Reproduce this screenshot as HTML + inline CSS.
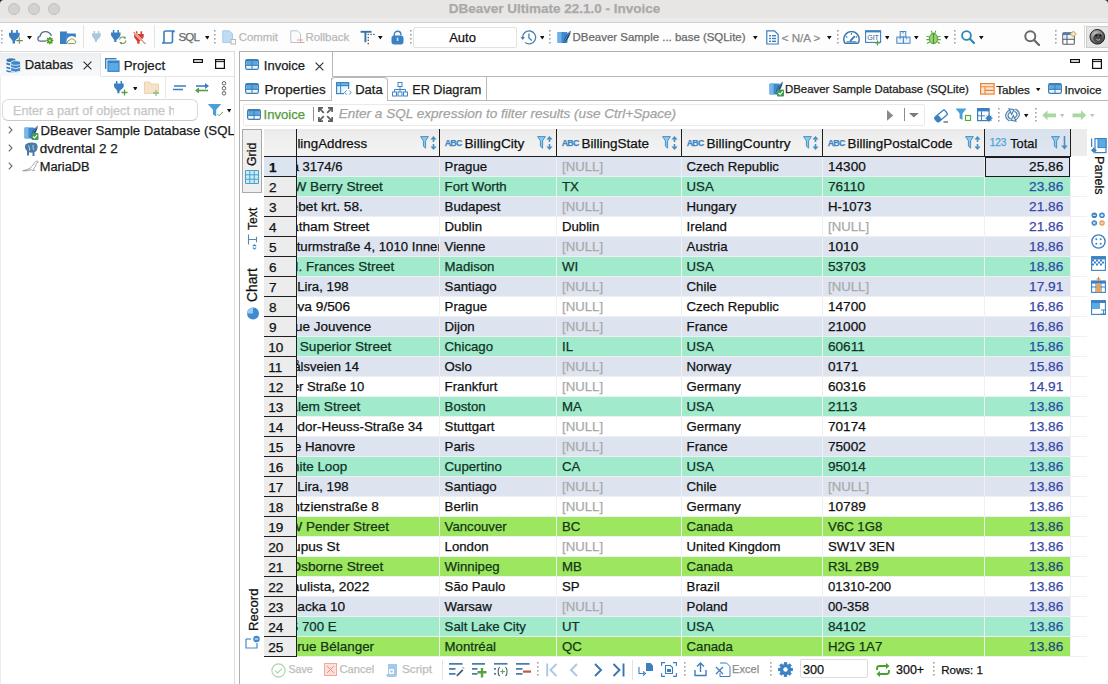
<!DOCTYPE html><html><head><meta charset="utf-8"><style>
*{margin:0;padding:0;box-sizing:border-box}
html,body{width:1108px;height:684px;overflow:hidden}
body{position:relative;background:#fff;font-family:"Liberation Sans",sans-serif;color:#1a1a1a}
.a{position:absolute}
.t{position:absolute;white-space:nowrap;line-height:1;-webkit-text-stroke:0.25px currentColor}
.clip{position:absolute;overflow:hidden}
</style></head><body>
<div class="a" style="left:0px;top:0px;width:1108px;height:6px;background:#222"></div>
<div class="a" style="left:0px;top:0px;width:1108px;height:23px;background:#e8e6e5;border-radius:4px 4px 0 0"></div>
<div class="a" style="left:0px;top:17.5px;width:1108px;height:4.5px;background:#ecebea"></div>
<div class="a" style="left:0px;top:22.3px;width:1108px;height:1px;background:#d2d2d2"></div>
<div class="a" style="left:8px;top:3px;width:12px;height:12px;border-radius:50%;background:#d3d1d1;border:1px solid #c2c0c0"></div>
<div class="a" style="left:28px;top:3px;width:12px;height:12px;border-radius:50%;background:#d3d1d1;border:1px solid #c2c0c0"></div>
<div class="a" style="left:48px;top:3px;width:12px;height:12px;border-radius:50%;background:#d3d1d1;border:1px solid #c2c0c0"></div>
<div class="t" style="left:448.7px;top:2.00px;font-size:13.5px;color:#a9a9a9;font-weight:bold">DBeaver Ultimate 22.1.0 - Invoice</div>
<div class="a" style="left:0px;top:23.3px;width:1108px;height:27.7px;background:#fdfdfd"></div>
<svg class="a" style="left:1.3px;top:30.3px;" width="2" height="16" viewBox="0 0 2 16"><rect x="0" y="0" width="1.6" height="1.6" fill="#aaaaaa"/><rect x="0" y="4" width="1.6" height="1.6" fill="#aaaaaa"/><rect x="0" y="8" width="1.6" height="1.6" fill="#aaaaaa"/><rect x="0" y="12" width="1.6" height="1.6" fill="#aaaaaa"/></svg>
<svg class="a" style="left:9px;top:30px;" width="16" height="15" viewBox="0 0 16 15"><g transform="translate(0,0) scale(1.0)" fill="#3b7fc0"><rect x="2" y="0" width="1.7" height="3.2"/><rect x="7.1" y="0" width="1.7" height="3.2"/><path d="M0,2.8 H10.6 V5.2 Q10.6,7 8.6,8.8 L6,11 V13.4 H3.6 V11 L2,8.8 Q0,7 0,5.2 Z"/></g><path d="M10.3,7.2 V13.8 M7.3,10.6 H13.8" stroke="#fdfdfd" stroke-width="3" fill="none"/><path d="M10.3,7.2 V13.8 M7.3,10.6 H13.8" stroke="#6b8f4e" stroke-width="1.1" fill="none"/></svg>
<svg class="a" style="left:27px;top:36.2px;" width="5" height="3.6" viewBox="0 0 5 3.6"><polygon points="0,0 5,0 2.5,3.6" fill="#111"/></svg>
<svg class="a" style="left:37px;top:30px;" width="17" height="15" viewBox="0 0 17 15"><path d="M9,11.2 H3.4 Q0.9,11.2 0.9,8.8 Q0.9,6.5 3.1,6.1 Q4,1.6 8.6,1.6 Q12.6,1.6 14.5,5.8" fill="none" stroke="#4c6d8e" stroke-width="1.3"/><g transform="translate(12.8 10.6)"><g stroke="#4b9a2c" stroke-width="1.5"><path d="M0,-3.6V3.6M-3.6,0H3.6M-2.5,-2.5L2.5,2.5M2.5,-2.5L-2.5,2.5"/></g><circle r="2.4" fill="#4b9a2c"/><circle r="1.1" fill="#b8ec98"/></g></svg>
<svg class="a" style="left:60px;top:30.5px;" width="17" height="14" viewBox="0 0 17 14"><path d="M0,0.5 H6.5 L7.5,2.5 H15.8 V13 H0 Z" fill="#3a80c4"/><path d="M6.5,0.5 V13" stroke="#4a90d4" stroke-width="0.8"/><circle cx="11.8" cy="10.2" r="5.3" fill="#fdfdfd"/><path d="M8.6,12.6 H14.8 A1.8,1.8 0 0 0 14.4,9.2 A2.8,2.8 0 0 0 9.3,9.6 A1.5,1.5 0 0 0 8.6,12.6Z" fill="#f4fbe8" stroke="#8a9a5a" stroke-width="1"/></svg>
<div class="a" style="left:82.5px;top:25px;width:1px;height:23px;background:#e3e3e3"></div>
<svg class="a" style="left:92px;top:30.5px;" width="10" height="13" viewBox="0 0 10 13"><g transform="translate(0,0) scale(0.83)" fill="#a9c7df"><rect x="2" y="0" width="1.7" height="3.2"/><rect x="7.1" y="0" width="1.7" height="3.2"/><path d="M0,2.8 H10.6 V5.2 Q10.6,7 8.6,8.8 L6,11 V13.4 H3.6 V11 L2,8.8 Q0,7 0,5.2 Z"/></g></svg>
<svg class="a" style="left:111px;top:30px;" width="16" height="15" viewBox="0 0 16 15"><g transform="translate(0,0) scale(0.9)" fill="#3b7fc0"><rect x="2" y="0" width="1.7" height="3.2"/><rect x="7.1" y="0" width="1.7" height="3.2"/><path d="M0,2.8 H10.6 V5.2 Q10.6,7 8.6,8.8 L6,11 V13.4 H3.6 V11 L2,8.8 Q0,7 0,5.2 Z"/></g><g fill="none" stroke="#6a9a50" stroke-width="1.1"><path d="M8.5,9.5 A3.5,3.2 0 0 1 14.5,8"/><path d="M15,10.5 A3.5,3.2 0 0 1 9,12.5"/></g><path d="M13.2,6.2 L15.2,8.4 L12.6,8.6Z M10.4,14.4 L8.5,12.2 L11,12Z" fill="#6a9a50"/></svg>
<svg class="a" style="left:133px;top:30.5px;" width="13" height="14" viewBox="0 0 13 14"><g transform="translate(1,0.3) scale(0.92)" fill="#cf3e2e"><rect x="2" y="0" width="1.7" height="3.2"/><rect x="7.1" y="0" width="1.7" height="3.2"/><path d="M0,2.8 H10.6 V5.2 Q10.6,7 8.6,8.8 L6,11 V13.4 H3.6 V11 L2,8.8 Q0,7 0,5.2 Z"/></g><path d="M0.5,1 L12.5,13" stroke="#fbfbfb" stroke-width="2.2"/><path d="M0.5,1 L12.5,13" stroke="#cf3e2e" stroke-width="1"/></svg>
<div class="a" style="left:154px;top:25px;width:1px;height:23px;background:#e3e3e3"></div>
<svg class="a" style="left:161px;top:30px;" width="15" height="14" viewBox="0 0 15 14"><path d="M3,2.5 V11.5 Q3,13 1,13 H9.5 Q11.5,13 11.5,11 V1.5 H13.8 M3,2.5 Q3,1 5,1 H13.5" fill="none" stroke="#3b7fc0" stroke-width="1.6"/></svg>
<div class="t" style="left:178.39999999999998px;top:32.00px;font-size:11.5px;color:#6a6a6a;letter-spacing:-0.7px">SQL</div>
<svg class="a" style="left:204.8px;top:36.0px;" width="4.6" height="3.5" viewBox="0 0 4.6 3.5"><polygon points="0,0 4.6,0 2.3,3.5" fill="#111"/></svg>
<svg class="a" style="left:214px;top:29.5px;" width="2" height="16" viewBox="0 0 2 16"><rect x="0" y="0" width="1.6" height="1.6" fill="#a3a3a3"/><rect x="0" y="4" width="1.6" height="1.6" fill="#a3a3a3"/><rect x="0" y="8" width="1.6" height="1.6" fill="#a3a3a3"/><rect x="0" y="12" width="1.6" height="1.6" fill="#a3a3a3"/></svg>
<svg class="a" style="left:222px;top:29.5px;" width="15" height="15" viewBox="0 0 15 15"><path d="M0.8,0.8 H7.5 L10.5,3.8 V12.5 H0.8Z" fill="#bfdcf2" stroke="#a9cbe6" stroke-width="1"/><rect x="9" y="9.5" width="4.5" height="4.5" fill="#fbfbfb" stroke="#b8b8b8" stroke-width="1"/></svg>
<div class="t" style="left:238.7px;top:32.00px;font-size:11.4px;color:#b8b8b8;">Commit</div>
<svg class="a" style="left:290px;top:29.5px;" width="15" height="15" viewBox="0 0 15 15"><path d="M0.8,0.8 H7.5 L10.5,3.8 V12.5 H0.8Z" fill="#fbfbfb" stroke="#b9c4cf" stroke-width="1"/><path d="M7,10 H13 M9,12.5 H14.5" stroke="#e0a090" stroke-width="1"/></svg>
<div class="t" style="left:305.5px;top:32.00px;font-size:11.4px;color:#b8b8b8;">Rollback</div>
<svg class="a" style="left:359.5px;top:29.5px;" width="16" height="16" viewBox="0 0 16 16"><path d="M0.6,1.8 H11.5" stroke="#2f74b0" stroke-width="1.9"/><path d="M5.4,1.8 V12.2" stroke="#2f74b0" stroke-width="1.9"/><g fill="#4a4a4a"><rect x="7.6" y="3.8" width="1.3" height="1.3"/><rect x="10.4" y="3.8" width="1.3" height="1.3"/><rect x="13.3" y="3.8" width="1.3" height="1.3"/><rect x="7.6" y="6.9" width="1.3" height="1.3"/><rect x="7.6" y="9.6" width="1.3" height="1.3"/><rect x="7.6" y="12.9" width="1.3" height="1.3"/></g></svg>
<svg class="a" style="left:378.4px;top:36.0px;" width="4.6" height="3.5" viewBox="0 0 4.6 3.5"><polygon points="0,0 4.6,0 2.3,3.5" fill="#111"/></svg>
<svg class="a" style="left:390.5px;top:29.5px;" width="13" height="15" viewBox="0 0 13 15"><path d="M3.3,6 V4.6 A3.3,3.3 0 0 1 9.9,4.6 V5.2" fill="none" stroke="#3b82c4" stroke-width="1.4"/><rect x="0.5" y="5.4" width="12" height="9" rx="2.6" fill="#3b82c4"/><rect x="5.8" y="7.6" width="1.5" height="3.4" fill="#bfe3fb"/></svg>
<svg class="a" style="left:409.5px;top:29.5px;" width="2" height="16" viewBox="0 0 2 16"><rect x="0" y="0" width="1.6" height="1.6" fill="#a3a3a3"/><rect x="0" y="4" width="1.6" height="1.6" fill="#a3a3a3"/><rect x="0" y="8" width="1.6" height="1.6" fill="#a3a3a3"/><rect x="0" y="12" width="1.6" height="1.6" fill="#a3a3a3"/></svg>
<div class="a" style="left:413px;top:26.5px;width:104px;height:21px;background:#fff;border:1px solid #e2e2e2;border-radius:2px"></div>
<div class="t" style="left:449.2px;top:31.00px;font-size:13px;color:#111;">Auto</div>
<svg class="a" style="left:519.5px;top:29.5px;" width="17" height="15" viewBox="0 0 17 15"><path d="M2.6,7.8 A6.5,6.5 0 1 1 5.2,12.6" fill="none" stroke="#4a80b0" stroke-width="1.3"/><path d="M0.5,7 L5,7 L2.7,10Z" fill="#4a80b0"/><path d="M8.9,3.6 V7.9 L11.8,10.6" fill="none" stroke="#4a80b0" stroke-width="1.3"/></svg>
<svg class="a" style="left:539.5px;top:36.0px;" width="4.6" height="3.5" viewBox="0 0 4.6 3.5"><polygon points="0,0 4.6,0 2.3,3.5" fill="#111"/></svg>
<svg class="a" style="left:548.5px;top:29.5px;" width="2" height="16" viewBox="0 0 2 16"><rect x="0" y="0" width="1.6" height="1.6" fill="#a3a3a3"/><rect x="0" y="4" width="1.6" height="1.6" fill="#a3a3a3"/><rect x="0" y="8" width="1.6" height="1.6" fill="#a3a3a3"/><rect x="0" y="12" width="1.6" height="1.6" fill="#a3a3a3"/></svg>
<svg class="a" style="left:557px;top:30px;" width="14" height="14" viewBox="0 0 14 14"><rect x="0.5" y="2" width="10" height="11" rx="1" fill="#3f8ad0"/><rect x="0.5" y="2" width="4" height="11" fill="#6fb0e8"/><path d="M6.5,12.5 Q8,5 13.8,0.6 Q13.5,7 7.6,12.8Z" fill="#1f4a78"/><path d="M7.3,12 Q9.5,6 13,1.8" fill="none" stroke="#8fb8e0" stroke-width="0.6"/></svg>
<div class="t" style="left:572.6px;top:32.00px;font-size:11.45px;color:#6a6a6a;">DBeaver Sample ... base (SQLite)</div>
<svg class="a" style="left:753.3px;top:36.0px;" width="4.6" height="3.5" viewBox="0 0 4.6 3.5"><polygon points="0,0 4.6,0 2.3,3.5" fill="#111"/></svg>
<svg class="a" style="left:765.5px;top:29.5px;" width="14" height="15" viewBox="0 0 14 15"><path d="M0.8,0.8 H8.5 L12.2,4.5 V14 H0.8Z" fill="#fff" stroke="#3b7fc0" stroke-width="1.2"/><g fill="#3b7fc0"><rect x="3" y="5" width="2" height="1.4"/><rect x="6" y="5" width="4" height="1.4"/><rect x="3" y="7.8" width="2" height="1.4"/><rect x="6" y="7.8" width="4" height="1.4"/><rect x="3" y="10.6" width="2" height="1.4"/><rect x="6" y="10.6" width="4" height="1.4"/></g></svg>
<div class="t" style="left:781.7px;top:32.00px;font-size:11.6px;color:#8a8a8a;">&lt; N/A &gt;</div>
<svg class="a" style="left:827.2px;top:36.0px;" width="4.6" height="3.5" viewBox="0 0 4.6 3.5"><polygon points="0,0 4.6,0 2.3,3.5" fill="#111"/></svg>
<svg class="a" style="left:836.5px;top:29.5px;" width="2" height="16" viewBox="0 0 2 16"><rect x="0" y="0" width="1.6" height="1.6" fill="#a3a3a3"/><rect x="0" y="4" width="1.6" height="1.6" fill="#a3a3a3"/><rect x="0" y="8" width="1.6" height="1.6" fill="#a3a3a3"/><rect x="0" y="12" width="1.6" height="1.6" fill="#a3a3a3"/></svg>
<svg class="a" style="left:843px;top:30.5px;" width="17" height="14" viewBox="0 0 17 14"><path d="M2,12.2 Q0.8,11 0.8,8.3 A7.7,7.7 0 0 1 16.2,8.3 Q16.2,11 15,12.2 Z" fill="#fff" stroke="#3a78b0" stroke-width="1.5" stroke-linejoin="round"/><path d="M3.5,10.8 H13.5" stroke="#3a78b0" stroke-width="1"/><path d="M8.5,2 V3.8 M3,5.5 L4.3,6.5 M14,5.5 L12.7,6.5" stroke="#3a78b0" stroke-width="1.1"/><path d="M7.6,9.6 L11.3,5.6" stroke="#3a78b0" stroke-width="1.8" stroke-linecap="round"/></svg>
<svg class="a" style="left:865px;top:30px;" width="17" height="16" viewBox="0 0 17 16"><rect x="0.6" y="0.8" width="15" height="11.6" fill="#fff" stroke="#3b7fc0" stroke-width="1.1"/><rect x="0.6" y="0.6" width="15" height="1.8" fill="#3b7fc0"/><text x="2.3" y="9.8" font-size="7.2" font-family="Liberation Sans" fill="#2d5f8f" letter-spacing="-0.2">GIT</text><path d="M12.5,10.5 V15.5 M10,13 H15" stroke="#58a040" stroke-width="1.2"/></svg>
<svg class="a" style="left:884.5px;top:36.0px;" width="4.6" height="3.5" viewBox="0 0 4.6 3.5"><polygon points="0,0 4.6,0 2.3,3.5" fill="#111"/></svg>
<svg class="a" style="left:895.5px;top:30.5px;" width="15" height="13" viewBox="0 0 15 13"><g fill="#eaf3fb" stroke="#4a88c0" stroke-width="1"><rect x="4.2" y="0.5" width="5.6" height="5.6"/><rect x="0.8" y="6.1" width="6.6" height="6.2"/><rect x="7.4" y="6.1" width="6.6" height="6.2"/></g><g stroke="#4a88c0" stroke-width="1"><path d="M7,0.5 V2.5 M4.1,6.1 V8.2 M10.7,6.1 V8.2"/></g></svg>
<svg class="a" style="left:914px;top:36.0px;" width="4.6" height="3.5" viewBox="0 0 4.6 3.5"><polygon points="0,0 4.6,0 2.3,3.5" fill="#111"/></svg>
<svg class="a" style="left:925.5px;top:29.8px;" width="15" height="15" viewBox="0 0 15 15"><ellipse cx="7.5" cy="8.7" rx="4" ry="5" fill="#9fd27e" stroke="#5aa83a" stroke-width="1.2"/><path d="M7.5,4 V13.7" stroke="#4e9a30" stroke-width="1.3"/><path d="M5.5,4 Q7.5,2.2 9.5,4" fill="#5aa83a" stroke="#5aa83a" stroke-width="1"/><path d="M5.2,0.8 L6.2,3 M9.8,0.8 L8.8,3 M0.5,6.2 L3.6,7 M0.3,9.6 H3.5 M1,13.5 L3.8,11.8 M14.5,6.2 L11.4,7 M14.7,9.6 H11.5 M14,13.5 L11.2,11.8" stroke="#5aa83a" stroke-width="1.1"/></svg>
<svg class="a" style="left:944.3px;top:36.0px;" width="4.6" height="3.5" viewBox="0 0 4.6 3.5"><polygon points="0,0 4.6,0 2.3,3.5" fill="#111"/></svg>
<svg class="a" style="left:953.5px;top:29.5px;" width="2" height="16" viewBox="0 0 2 16"><rect x="0" y="0" width="1.6" height="1.6" fill="#a3a3a3"/><rect x="0" y="4" width="1.6" height="1.6" fill="#a3a3a3"/><rect x="0" y="8" width="1.6" height="1.6" fill="#a3a3a3"/><rect x="0" y="12" width="1.6" height="1.6" fill="#a3a3a3"/></svg>
<svg class="a" style="left:961px;top:30px;" width="14" height="14" viewBox="0 0 14 14"><circle cx="5.5" cy="5.5" r="4.4" fill="none" stroke="#2f86b8" stroke-width="1.8"/><path d="M8.8,8.8 L13,13" stroke="#2f86b8" stroke-width="2.2" stroke-linecap="round"/></svg>
<svg class="a" style="left:979px;top:36.0px;" width="4.6" height="3.5" viewBox="0 0 4.6 3.5"><polygon points="0,0 4.6,0 2.3,3.5" fill="#111"/></svg>
<svg class="a" style="left:1023.5px;top:29.5px;" width="16" height="16" viewBox="0 0 16 16"><circle cx="6.3" cy="6.3" r="5" fill="none" stroke="#6a6a6a" stroke-width="2"/><path d="M10,10 L15,15" stroke="#6a6a6a" stroke-width="2.4" stroke-linecap="round"/></svg>
<svg class="a" style="left:1054.5px;top:29.5px;" width="2" height="16" viewBox="0 0 2 16"><rect x="0" y="0" width="1.6" height="1.6" fill="#a3a3a3"/><rect x="0" y="4" width="1.6" height="1.6" fill="#a3a3a3"/><rect x="0" y="8" width="1.6" height="1.6" fill="#a3a3a3"/><rect x="0" y="12" width="1.6" height="1.6" fill="#a3a3a3"/></svg>
<svg class="a" style="left:1061.5px;top:29.5px;" width="16" height="16" viewBox="0 0 16 16"><rect x="0.8" y="2.8" width="11.5" height="11.4" rx="1" fill="#fff" stroke="#555c66" stroke-width="1.1"/><rect x="0.8" y="2.8" width="11.5" height="2.4" fill="#4a80b0"/><rect x="1.4" y="5.2" width="3.4" height="4" fill="#dcecf8"/><rect x="5.6" y="5.2" width="6" height="4" fill="#f0f0f0"/><path d="M0.8,9.3 H12.3 M5,5.2 V14.2" stroke="#555c66" stroke-width="1"/><path d="M11.3,0.5 L14.8,3.9 L11.3,7.3 L7.8,3.9Z" fill="#c9ad62"/><path d="M11.3,1.8V6M9.2,3.9H13.4" stroke="#fff7d8" stroke-width="1.1"/></svg>
<div class="a" style="left:1083.5px;top:25px;width:1px;height:23px;background:#d9d9d9"></div>
<div class="a" style="left:1086px;top:26px;width:22px;height:22px;background:#e6e6e6;border:1px solid #cdcdcd;border-right:none"></div>
<svg class="a" style="left:1088.5px;top:29px;" width="17" height="16" viewBox="0 0 17 16"><defs><radialGradient id="av" cx="0.4" cy="0.35" r="0.7"><stop offset="0" stop-color="#d0d0d0"/><stop offset="0.5" stop-color="#8a8a8a"/><stop offset="1" stop-color="#3a3a3a"/></radialGradient></defs><circle cx="8.3" cy="7.8" r="7.3" fill="url(#av)" stroke="#1e1e1e" stroke-width="1"/><path d="M4,9 Q5,4.5 9,4.5 Q13,4.5 13.5,8.5 Q13,13 8.5,13.5 Q5,13 4,9Z" fill="#4a4a4a"/><circle cx="7.2" cy="6.6" r="1" fill="#111"/><circle cx="11.3" cy="6.6" r="1" fill="#111"/><path d="M7.5,10.5 Q9,12 11,10.5" fill="none" stroke="#ddd" stroke-width="0.8"/></svg>
<div class="a" style="left:0px;top:51px;width:240px;height:633px;background:#fff"></div>
<div class="a" style="left:0px;top:52px;width:1px;height:632px;background:#ececec"></div>
<div class="a" style="left:234px;top:51px;width:1px;height:633px;background:#dcdcdc"></div>
<div class="a" style="left:0px;top:51px;width:235px;height:1px;background:#dcdcdc"></div>
<div class="a" style="left:0px;top:53px;width:100px;height:23px;background:linear-gradient(#eeeff1,#f5f6f7 60%,#f8f9fa)"></div>
<div class="a" style="left:100px;top:53px;width:1px;height:23px;background:#e4e4e4"></div>
<div class="a" style="left:100px;top:76px;width:134px;height:1px;background:#e6e6e6"></div>
<svg class="a" style="left:5.5px;top:57.5px;" width="15" height="15" viewBox="0 0 15 15"><g fill="#3a78b5"><ellipse cx="5" cy="2.2" rx="4.6" ry="1.9"/><path d="M0.4,4.6 Q5,6.6 9.6,4.6 V6.4 Q5,8.4 0.4,6.4Z M0.4,8.4 Q5,10.4 9.6,8.4 V10.2 Q5,12.2 0.4,10.2Z M0.4,12 Q5,14 9.6,12 V13.4 Q5,15.2 0.4,13.4Z"/></g><g fill="#3f86c6" stroke="#eaf4fc" stroke-width="0.9"><path d="M4.6,8.6 Q9.6,11 14.6,8.6 V13 Q9.6,15.4 4.6,13Z"/><path d="M4.6,5.2 Q9.6,7.6 14.6,5.2 V9.4 Q9.6,11.8 4.6,9.4Z"/><ellipse cx="9.6" cy="5" rx="5" ry="2.3"/></g></svg>
<div class="t" style="left:24.7px;top:58.00px;font-size:13px;color:#1a1a1a;">Databas</div>
<svg class="a" style="left:83px;top:61px;" width="9" height="9" viewBox="0 0 9 9"><path d="M0.6,0.6 L8.4,8.4 M8.4,0.6 L0.6,8.4" stroke="#2a2a2a" stroke-width="1.1"/></svg>
<svg class="a" style="left:104.5px;top:57.5px;" width="15" height="14" viewBox="0 0 15 14"><path d="M0.7,11 V0.7 H11.5" fill="none" stroke="#3b82c4" stroke-width="1.4"/><rect x="3" y="3" width="11" height="10.3" fill="#5aaae6" stroke="#3b82c4" stroke-width="1.2"/><rect x="3" y="3" width="11" height="2" fill="#3b82c4"/></svg>
<div class="t" style="left:123.7px;top:59.00px;font-size:13.3px;color:#1a1a1a;">Project</div>
<svg class="a" style="left:193px;top:59px;" width="10" height="4" viewBox="0 0 10 4"><rect x="0.6" y="0.6" width="8.8" height="2.8" fill="none" stroke="#111" stroke-width="1.2"/></svg>
<svg class="a" style="left:215px;top:59px;" width="10" height="10" viewBox="0 0 10 10"><rect x="0.6" y="0.6" width="8.8" height="8.8" fill="none" stroke="#111" stroke-width="1.2"/><path d="M0.6,2.6 H9.4" stroke="#111" stroke-width="1"/></svg>
<svg class="a" style="left:113.5px;top:80.5px;" width="15" height="15" viewBox="0 0 15 15"><g transform="translate(0,0) scale(0.92)" fill="#3b7fc0"><rect x="2" y="0" width="1.7" height="3.2"/><rect x="7.1" y="0" width="1.7" height="3.2"/><path d="M0,2.8 H10.6 V5.2 Q10.6,7 8.6,8.8 L6,11 V13.4 H3.6 V11 L2,8.8 Q0,7 0,5.2 Z"/></g><path d="M10.5,8.5 V14.5 M7.5,11.5 H13.5" stroke="#5a9a48" stroke-width="1.3"/></svg>
<svg class="a" style="left:132.6px;top:86.8px;" width="4.6" height="3.6" viewBox="0 0 4.6 3.6"><polygon points="0,0 4.6,0 2.3,3.6" fill="#111"/></svg>
<svg class="a" style="left:143.5px;top:80.5px;" width="16" height="15" viewBox="0 0 16 15"><path d="M0.5,1 H5.5 L7,3 H14.5 V12.5 H0.5 Z" fill="#f6e2c6" stroke="#ecd2ae" stroke-width="1"/><path d="M12,9 V15 M9,12 H15" stroke="#8ec07a" stroke-width="1.3"/></svg>
<div class="a" style="left:165px;top:77px;width:1px;height:21px;background:#e8e8e8"></div>
<svg class="a" style="left:173px;top:85px;" width="14" height="6" viewBox="0 0 14 6"><path d="M1,1 H13 M0,4.5 H10" stroke="#3b7fc0" stroke-width="1.6"/></svg>
<svg class="a" style="left:193.5px;top:82.5px;" width="16" height="10" viewBox="0 0 16 10"><path d="M2,3 H12" stroke="#3b7fc0" stroke-width="1.6"/><path d="M11,0 L15,3 L11,6Z" fill="#3b7fc0"/><path d="M4,7.5 H14" stroke="#5a9a48" stroke-width="1.6"/><path d="M5,4.5 L1,7.5 L5,10.5Z" fill="#5a9a48"/></svg>
<svg class="a" style="left:220.5px;top:81px;" width="6" height="15" viewBox="0 0 6 15"><g fill="none" stroke="#555" stroke-width="0.9"><circle cx="3" cy="2.3" r="1.8"/><circle cx="3" cy="7.3" r="1.8"/><circle cx="3" cy="12.3" r="1.8"/></g></svg>
<div class="a" style="left:2px;top:99px;width:196px;height:21.5px;background:#fff;border:1px solid #dadada;border-bottom-color:#c9c9c9;border-radius:6px"></div>
<div class="clip" style="left:12px;top:100px;width:161.5px;height:19px">
<div class="t" style="left:1.0px;top:5.00px;font-size:12.6px;color:#c6c6c6;">Enter a part of object name h</div>
</div>
<svg class="a" style="left:206.5px;top:102.5px;" width="18" height="15" viewBox="0 0 18 15"><path d="M0.8,1 H14.2 L9.2,6.8 V13.5 L6,11.5 V6.8 Z" fill="#4a9fd8"/><path d="M10.5,11 L12.2,12.8 L15.8,9" fill="none" stroke="#6aa85a" stroke-width="1"/></svg>
<svg class="a" style="left:226.8px;top:109.4px;" width="4.4" height="3.4" viewBox="0 0 4.4 3.4"><polygon points="0,0 4.4,0 2.2,3.4" fill="#111"/></svg>
<svg class="a" style="left:7.8px;top:126px;" width="5" height="8" viewBox="0 0 5 8"><path d="M0.8,0.6 L4,4 L0.8,7.4" fill="none" stroke="#6e6e6e" stroke-width="1.2"/></svg>
<svg class="a" style="left:7.8px;top:144px;" width="5" height="8" viewBox="0 0 5 8"><path d="M0.8,0.6 L4,4 L0.8,7.4" fill="none" stroke="#6e6e6e" stroke-width="1.2"/></svg>
<svg class="a" style="left:7.8px;top:162px;" width="5" height="8" viewBox="0 0 5 8"><path d="M0.8,0.6 L4,4 L0.8,7.4" fill="none" stroke="#6e6e6e" stroke-width="1.2"/></svg>
<svg class="a" style="left:23.5px;top:124.5px;" width="15" height="15" viewBox="0 0 15 15"><rect x="0.5" y="2.5" width="10" height="11" rx="1" fill="#3f8ad0"/><rect x="0.5" y="2.5" width="4" height="11" fill="#78b6ea"/><path d="M6.5,12.5 Q8,5 13.8,0.6 Q13.5,7 7.6,12.8Z" fill="#1f4a78"/><path d="M7.3,12 Q9.5,6 13,1.8" fill="none" stroke="#8fb8e0" stroke-width="0.6"/><rect x="7.5" y="8" width="7" height="7" rx="1" fill="#3f9a55"/><path d="M9,11.5 L10.6,13 L13.2,9.8" fill="none" stroke="#fff" stroke-width="1.1"/></svg>
<div class="clip" style="left:40px;top:122px;width:194px;height:18px">
<div class="t" style="left:0.5px;top:2.00px;font-size:13.2px;color:#1a1a1a;">DBeaver Sample Database (SQLite)</div>
</div>
<svg class="a" style="left:23.5px;top:142px;" width="15" height="15" viewBox="0 0 15 15"><path d="M2,2 Q7,-0.5 12.5,1.5 Q14.5,4 13,8 Q12,10 10.5,10 V14 H8.5 V10.5 Q6,11 5,10 V13.5 H3 V9 Q0.5,7 1,4 Q1,2.8 2,2Z" fill="#4b7ba8"/><path d="M4.5,3.5 Q6,5.5 5.5,8.5 M9,3 Q8.5,6 10,8" fill="none" stroke="#c8dbea" stroke-width="0.9"/></svg>
<div class="t" style="left:39.7px;top:142.00px;font-size:13.5px;color:#1a1a1a;">dvdrental 2 2</div>
<svg class="a" style="left:21.5px;top:160px;" width="17" height="12" viewBox="0 0 17 12"><path d="M0.8,10.6 Q5,10.2 8,8.2 Q11,5.8 12.4,2.8 Q13.5,0.9 15.6,1.1 L16.2,2.3 Q14.6,2.6 14.1,4.2 Q13.6,7 11.4,8.8 L12.6,10.6 H10 L9.3,9.6 Q6,11.2 0.8,10.9Z" fill="#fff" stroke="#8d939b" stroke-width="0.8"/><path d="M3,10.8 L4.6,9.8 M6.2,10.6 L7.4,9.4" stroke="#8d939b" stroke-width="0.7"/></svg>
<div class="t" style="left:39.7px;top:161.00px;font-size:12.85px;color:#1a1a1a;">MariaDB</div>
<div class="a" style="left:239px;top:52px;width:869px;height:632px;background:#fff"></div>
<div class="a" style="left:239px;top:51px;width:869px;height:1px;background:#b0b0b0"></div>
<div class="a" style="left:239px;top:51px;width:1px;height:633px;background:#b0b0b0"></div>
<div class="a" style="left:332px;top:52px;width:1px;height:24px;background:#b5b5b5"></div>
<div class="a" style="left:332px;top:76px;width:776px;height:1px;background:#b8b8b8"></div>
<svg class="a" style="left:244.9px;top:58.5px;" width="14" height="11" viewBox="0 0 14 11"><rect x="0.6" y="0.6" width="12.8" height="9.8" rx="1.6" fill="#eaf5fd" stroke="#3f7fb5" stroke-width="1.2"/><rect x="1.2" y="2.2" width="11.6" height="4.1" fill="#5aa8e0"/><path d="M1,1.5 H13" stroke="#3f7fb5" stroke-width="1.8"/><path d="M7.0,2 V10 M1,6.4 H13" stroke="#3f7fb5" stroke-width="1"/></svg>
<div class="t" style="left:263.8px;top:59.00px;font-size:13px;color:#1a1a1a;">Invoice</div>
<svg class="a" style="left:315px;top:61.5px;" width="9" height="9" viewBox="0 0 9 9"><path d="M0.6,0.6 L8.4,8.4 M8.4,0.6 L0.6,8.4" stroke="#2a2a2a" stroke-width="1.1"/></svg>
<svg class="a" style="left:1070px;top:59px;" width="10" height="4" viewBox="0 0 10 4"><rect x="0.6" y="0.6" width="8.8" height="2.8" fill="none" stroke="#111" stroke-width="1.2"/></svg>
<svg class="a" style="left:1092px;top:59px;" width="10" height="10" viewBox="0 0 10 10"><rect x="0.6" y="0.6" width="8.8" height="8.8" fill="none" stroke="#111" stroke-width="1.2"/><path d="M0.6,2.6 H9.4" stroke="#111" stroke-width="1"/></svg>
<div class="a" style="left:240px;top:100px;width:868px;height:1px;background:#b9b9b9"></div>
<div class="a" style="left:331px;top:78px;width:1px;height:23px;background:#b9b9b9"></div>
<svg class="a" style="left:244.9px;top:83px;" width="14" height="11" viewBox="0 0 14 11"><rect x="0.6" y="0.6" width="12.8" height="9.8" rx="1.6" fill="#eaf5fd" stroke="#3f7fb5" stroke-width="1.2"/><rect x="1.2" y="2.2" width="11.6" height="4.1" fill="#5aa8e0"/><path d="M1,1.5 H13" stroke="#3f7fb5" stroke-width="1.8"/><path d="M7.0,2 V10 M1,6.4 H13" stroke="#3f7fb5" stroke-width="1"/></svg>
<div class="t" style="left:264.4px;top:83.00px;font-size:13.45px;color:#1a1a1a;">Properties</div>
<div class="a" style="left:331px;top:77px;width:56.5px;height:24px;background:#fff;border:1px solid #b9b9b9;border-bottom:none;border-radius:4px 4px 0 0"></div>
<svg class="a" style="left:335.5px;top:82px;" width="16" height="14" viewBox="0 0 16 14"><rect x="0.6" y="0.6" width="12" height="11" fill="#e8f4fd" stroke="#3d86c6" stroke-width="1.2"/><rect x="0.6" y="0.6" width="12" height="3" fill="#6db4ea" stroke="#3d86c6" stroke-width="1.2"/><path d="M4.6,1 V11.5" stroke="#3d86c6" stroke-width="1"/><rect x="8" y="7" width="8" height="7" fill="#fff"/><path d="M10.5,8.5 L8.7,10.5 L10.5,12.5 M13.3,8.5 L15.1,10.5 L13.3,12.5" fill="none" stroke="#3d86c6" stroke-width="1"/></svg>
<div class="t" style="left:355.2px;top:83.00px;font-size:13px;color:#1a1a1a;">Data</div>
<div class="a" style="left:485.5px;top:77px;width:1px;height:24px;background:#b9b9b9"></div>
<svg class="a" style="left:392px;top:81.5px;" width="16" height="15" viewBox="0 0 16 15"><g fill="#fff" stroke="#3d86c6" stroke-width="1"><rect x="6" y="0.5" width="4" height="4"/><rect x="0.5" y="10" width="4" height="4"/><rect x="6" y="10" width="4" height="4"/><rect x="11.5" y="10" width="4" height="4"/></g><path d="M8,4.5 V7.5 M2.5,10 V7.5 H13.5 V10 M8,7.5 V10" fill="none" stroke="#3d86c6" stroke-width="1"/></svg>
<div class="t" style="left:412.2px;top:84.00px;font-size:12.7px;color:#1a1a1a;">ER Diagram</div>
<svg class="a" style="left:768.5px;top:80.5px;" width="16" height="16" viewBox="0 0 16 16"><rect x="0.5" y="2.5" width="10" height="11" rx="1" fill="#3f8ad0"/><rect x="0.5" y="2.5" width="4" height="11" fill="#78b6ea"/><path d="M6.5,12.5 Q8,5 13.8,0.6 Q13.5,7 7.6,12.8Z" fill="#1f4a78"/><path d="M7.3,12 Q9.5,6 13,1.8" fill="none" stroke="#8fb8e0" stroke-width="0.6"/><rect x="8" y="8.5" width="7" height="7" rx="1" fill="#3f9a55"/><path d="M9.5,12 L11.1,13.5 L13.7,10.3" fill="none" stroke="#fff" stroke-width="1.1"/></svg>
<div class="t" style="left:785.0px;top:84.00px;font-size:11.42px;color:#1a1a1a;">DBeaver Sample Database (SQLite)</div>
<svg class="a" style="left:979.5px;top:82.5px;" width="15" height="12" viewBox="0 0 15 12"><rect x="0.6" y="0.6" width="13.5" height="10.5" fill="#fbe6d2" stroke="#e8843a" stroke-width="1.2"/><path d="M0.6,3.8 H14 M5,3.8 V11 M5,7.4 H14" stroke="#e8843a" stroke-width="1.1"/></svg>
<div class="t" style="left:996.2px;top:84.00px;font-size:11.66px;color:#1a1a1a;">Tables</div>
<svg class="a" style="left:1036.3px;top:87.5px;" width="4.4" height="3.4" viewBox="0 0 4.4 3.4"><polygon points="0,0 4.4,0 2.2,3.4" fill="#111"/></svg>
<svg class="a" style="left:1047.7px;top:82.5px;" width="14" height="11" viewBox="0 0 14 11"><rect x="0.6" y="0.6" width="12.8" height="9.8" rx="1.6" fill="#eaf5fd" stroke="#3f7fb5" stroke-width="1.2"/><rect x="1.2" y="2.2" width="11.6" height="4.1" fill="#5aa8e0"/><path d="M1,1.5 H13" stroke="#3f7fb5" stroke-width="1.8"/><path d="M7.0,2 V10 M1,6.4 H13" stroke="#3f7fb5" stroke-width="1"/></svg>
<div class="t" style="left:1064.5px;top:84.00px;font-size:11.68px;color:#1a1a1a;">Invoice</div>
<div class="a" style="left:243px;top:104px;width:682px;height:21.5px;background:#fff;border:1px solid #eaeaea;border-radius:2px"></div>
<svg class="a" style="left:246.8px;top:109px;" width="14" height="11" viewBox="0 0 14 11"><rect x="0.6" y="0.6" width="12.8" height="9.8" rx="1.6" fill="#eaf5fd" stroke="#3f7fb5" stroke-width="1.2"/><rect x="1.2" y="2.2" width="11.6" height="4.1" fill="#5aa8e0"/><path d="M1,1.5 H13" stroke="#3f7fb5" stroke-width="1.8"/><path d="M7.0,2 V10 M1,6.4 H13" stroke="#3f7fb5" stroke-width="1"/></svg>
<div class="t" style="left:263.59999999999997px;top:108.00px;font-size:13.1px;color:#4f9a3c;">Invoice</div>
<div class="a" style="left:313px;top:107px;width:1px;height:13.5px;background:#909090"></div>
<svg class="a" style="left:318px;top:107px;" width="15" height="15" viewBox="0 0 15 15"><g fill="none" stroke="#5e5e5e" stroke-width="1.7"><path d="M0.9,5 V0.9 H5 M1.2,1.2 L5.8,5.8 M10,0.9 H14.1 V5 M13.8,1.2 L9.2,5.8 M0.9,10 V14.1 H5 M1.2,13.8 L5.8,9.2 M14.1,10 V14.1 H10 M13.8,13.8 L9.2,9.2"/></g></svg>
<div class="t" style="left:338.7px;top:107.00px;font-size:13.55px;color:#a3a3a3;font-style:italic">Enter a SQL expression to filter results (use Ctrl+Space)</div>
<svg class="a" style="left:887px;top:109.8px;" width="7" height="11" viewBox="0 0 7 11"><polygon points="0,0 6.2,5.4 0,10.8" fill="#8a8a8a"/></svg>
<div class="a" style="left:904px;top:108px;width:1px;height:13px;background:#8a8a8a"></div>
<svg class="a" style="left:909.3px;top:112.6px;" width="10" height="5" viewBox="0 0 10 5"><polygon points="0,0 9.7,0 4.85,4.4" fill="#7a7a7a"/></svg>
<svg class="a" style="left:933.5px;top:108.5px;" width="15" height="14" viewBox="0 0 15 14"><g transform="rotate(-40 7 7)"><rect x="0.5" y="4" width="13" height="6" rx="1.5" fill="#fff" stroke="#3b7fc0" stroke-width="1.3"/><rect x="0.5" y="4" width="5" height="6" rx="1.5" fill="#3b7fc0"/></g><path d="M9.5,13 H14" stroke="#333" stroke-width="1"/></svg>
<svg class="a" style="left:954.5px;top:108.3px;" width="17" height="13" viewBox="0 0 17 13"><path d="M0.6,0.6 H11.5 L7.5,5.5 V12 L4.6,10.2 V5.5Z" fill="#4a9fd8"/><rect x="10.5" y="7.5" width="5" height="5" fill="#fff" stroke="#5aa83a" stroke-width="1.2"/></svg>
<svg class="a" style="left:977px;top:108.3px;" width="16" height="14" viewBox="0 0 16 14"><rect x="0.6" y="0.6" width="11.5" height="12" fill="#fff" stroke="#3b7fc0" stroke-width="1.2"/><rect x="0.6" y="0.6" width="11.5" height="2.8" fill="#3b7fc0"/><path d="M4.5,3.4 V12.6 M0.6,7.8 H8" stroke="#3b7fc0" stroke-width="1"/><circle cx="12" cy="10.2" r="2.6" fill="#3b7fc0"/><circle cx="12" cy="10.2" r="0.9" fill="#fff"/><g stroke="#3b7fc0" stroke-width="1"><path d="M12,6.6V13.8M8.4,10.2H15.6M9.5,7.7L14.5,12.7M14.5,7.7L9.5,12.7"/></g></svg>
<svg class="a" style="left:998.4px;top:108px;" width="2" height="16" viewBox="0 0 2 16"><rect x="0" y="0" width="1.6" height="1.6" fill="#a3a3a3"/><rect x="0" y="4" width="1.6" height="1.6" fill="#a3a3a3"/><rect x="0" y="8" width="1.6" height="1.6" fill="#a3a3a3"/><rect x="0" y="12" width="1.6" height="1.6" fill="#a3a3a3"/></svg>
<svg class="a" style="left:1005.3px;top:106.5px;" width="15" height="16" viewBox="0 0 15 16"><g transform="rotate(-30 7.5 8)"><g fill="none" stroke-linecap="butt"><path d="M3,11 Q0.5,7.5 3,4.8 Q5,3 8,3.6" stroke="#4a7aa8" stroke-width="3.4"/><path d="M3,11 Q0.5,7.5 3,4.8 Q5,3 8,3.6" stroke="#d2ecf8" stroke-width="1.4"/><path d="M12,5 Q14.5,8.5 12,11.2 Q10,13 7,12.4" stroke="#4a7aa8" stroke-width="3.4"/><path d="M12,5 Q14.5,8.5 12,11.2 Q10,13 7,12.4" stroke="#d2ecf8" stroke-width="1.4"/></g><path d="M7.5,0.8 L11.5,4.2 L7,7.2Z" fill="#d2ecf8" stroke="#4a7aa8" stroke-width="1"/><path d="M7.5,15.2 L3.5,11.8 L8,8.8Z" fill="#d2ecf8" stroke="#4a7aa8" stroke-width="1"/></g></svg>
<svg class="a" style="left:1024.2px;top:114px;" width="4.4" height="3.6" viewBox="0 0 4.4 3.6"><polygon points="0,0 4.4,0 2.2,3.6" fill="#111"/></svg>
<svg class="a" style="left:1034.5px;top:108px;" width="2" height="16" viewBox="0 0 2 16"><rect x="0" y="0" width="1.6" height="1.6" fill="#a3a3a3"/><rect x="0" y="4" width="1.6" height="1.6" fill="#a3a3a3"/><rect x="0" y="8" width="1.6" height="1.6" fill="#a3a3a3"/><rect x="0" y="12" width="1.6" height="1.6" fill="#a3a3a3"/></svg>
<svg class="a" style="left:1041.8px;top:109.8px;" width="15" height="11" viewBox="0 0 15 11"><path d="M5.5,0.3 L0.3,5.3 L5.5,10.3Z" fill="#a8d8a0"/><rect x="4.5" y="3.5" width="9.5" height="3.8" fill="#a8d8a0"/></svg>
<svg class="a" style="left:1060.3px;top:114.2px;" width="4.6" height="3.6" viewBox="0 0 4.6 3.6"><polygon points="0,0 4.6,0 2.3,3.6" fill="#c4c4c4"/></svg>
<svg class="a" style="left:1071.5px;top:109.8px;" width="15" height="11" viewBox="0 0 15 11"><path d="M9,0.3 L14.2,5.3 L9,10.3Z" fill="#a8d8a0"/><rect x="0.5" y="3.5" width="9.5" height="3.8" fill="#a8d8a0"/></svg>
<svg class="a" style="left:1090.3px;top:114.2px;" width="4.6" height="3.6" viewBox="0 0 4.6 3.6"><polygon points="0,0 4.6,0 2.3,3.6" fill="#c4c4c4"/></svg>
<div class="a" style="left:264px;top:129px;width:806px;height:27px;background:linear-gradient(#e9e9e9,#f0f0f0 45%,#f3f3f3)"></div>
<div class="a" style="left:985px;top:129px;width:85px;height:27px;background:linear-gradient(#d9e1ed,#e0e7f1)"></div>
<div class="a" style="left:1071px;top:129px;width:16px;height:27px;background:#ececec"></div>
<div class="a" style="left:264px;top:156px;width:807px;height:1px;background:#1e1e1e"></div>
<div class="a" style="left:296px;top:129px;width:1px;height:27px;background:#1e1e1e"></div>
<div class="a" style="left:439px;top:129px;width:1px;height:27px;background:#1e1e1e"></div>
<div class="a" style="left:556px;top:129px;width:1px;height:27px;background:#1e1e1e"></div>
<div class="a" style="left:681px;top:129px;width:1px;height:27px;background:#1e1e1e"></div>
<div class="a" style="left:822px;top:129px;width:1px;height:27px;background:#1e1e1e"></div>
<div class="a" style="left:984px;top:129px;width:1px;height:27px;background:#1e1e1e"></div>
<div class="a" style="left:1070px;top:129px;width:1px;height:27px;background:#1e1e1e"></div>
<div class="clip" style="left:297px;top:129px;width:142px;height:27px">
<div class="t" style="left:0.3999999999999999px;top:8.00px;font-size:13.35px;color:#111;">lingAddress</div>
</div>
<svg class="a" style="left:420px;top:136.3px;" width="9" height="13" viewBox="0 0 9 13"><path d="M0.6,0.6 H8.4 L5.6,4.8 V12.2 L3.4,10.2 V4.8Z" fill="#8ccbeb" stroke="#4a90c4" stroke-width="1" stroke-linejoin="round"/></svg>
<svg class="a" style="left:429.5px;top:135.7px;" width="7" height="15" viewBox="0 0 7 15"><g fill="#4a8fc0"><path d="M3.5,0 L6.6,3.4 H4.3 V6 H2.7 V3.4 H0.4Z"/><path d="M3.5,14 L6.6,10.6 H4.3 V8 H2.7 V10.6 H0.4Z"/></g></svg>
<div class="t" style="left:444.7px;top:139.00px;font-size:8.8px;color:#3f86c2;font-weight:bold;letter-spacing:-0.75px">ABC</div>
<div class="t" style="left:464.5px;top:137.00px;font-size:13.65px;color:#111;">BillingCity</div>
<svg class="a" style="left:536.5px;top:136.3px;" width="9" height="13" viewBox="0 0 9 13"><path d="M0.6,0.6 H8.4 L5.6,4.8 V12.2 L3.4,10.2 V4.8Z" fill="#8ccbeb" stroke="#4a90c4" stroke-width="1" stroke-linejoin="round"/></svg>
<svg class="a" style="left:546.2px;top:135.7px;" width="7" height="15" viewBox="0 0 7 15"><g fill="#4a8fc0"><path d="M3.5,0 L6.6,3.4 H4.3 V6 H2.7 V3.4 H0.4Z"/><path d="M3.5,14 L6.6,10.6 H4.3 V8 H2.7 V10.6 H0.4Z"/></g></svg>
<div class="t" style="left:561.7px;top:139.00px;font-size:8.8px;color:#3f86c2;font-weight:bold;letter-spacing:-0.75px">ABC</div>
<div class="t" style="left:581.5px;top:137.00px;font-size:13.53px;color:#111;">BillingState</div>
<svg class="a" style="left:661.5px;top:136.3px;" width="9" height="13" viewBox="0 0 9 13"><path d="M0.6,0.6 H8.4 L5.6,4.8 V12.2 L3.4,10.2 V4.8Z" fill="#8ccbeb" stroke="#4a90c4" stroke-width="1" stroke-linejoin="round"/></svg>
<svg class="a" style="left:671.2px;top:135.7px;" width="7" height="15" viewBox="0 0 7 15"><g fill="#4a8fc0"><path d="M3.5,0 L6.6,3.4 H4.3 V6 H2.7 V3.4 H0.4Z"/><path d="M3.5,14 L6.6,10.6 H4.3 V8 H2.7 V10.6 H0.4Z"/></g></svg>
<div class="t" style="left:686.7px;top:139.00px;font-size:8.8px;color:#3f86c2;font-weight:bold;letter-spacing:-0.75px">ABC</div>
<div class="t" style="left:706.5px;top:137.00px;font-size:13.62px;color:#111;">BillingCountry</div>
<svg class="a" style="left:802.5px;top:136.3px;" width="9" height="13" viewBox="0 0 9 13"><path d="M0.6,0.6 H8.4 L5.6,4.8 V12.2 L3.4,10.2 V4.8Z" fill="#8ccbeb" stroke="#4a90c4" stroke-width="1" stroke-linejoin="round"/></svg>
<svg class="a" style="left:812.2px;top:135.7px;" width="7" height="15" viewBox="0 0 7 15"><g fill="#4a8fc0"><path d="M3.5,0 L6.6,3.4 H4.3 V6 H2.7 V3.4 H0.4Z"/><path d="M3.5,14 L6.6,10.6 H4.3 V8 H2.7 V10.6 H0.4Z"/></g></svg>
<div class="t" style="left:827.7px;top:139.00px;font-size:8.8px;color:#3f86c2;font-weight:bold;letter-spacing:-0.75px">ABC</div>
<div class="t" style="left:847.5px;top:137.00px;font-size:13.42px;color:#111;">BillingPostalCode</div>
<svg class="a" style="left:964.5px;top:136.3px;" width="9" height="13" viewBox="0 0 9 13"><path d="M0.6,0.6 H8.4 L5.6,4.8 V12.2 L3.4,10.2 V4.8Z" fill="#8ccbeb" stroke="#4a90c4" stroke-width="1" stroke-linejoin="round"/></svg>
<svg class="a" style="left:974.2px;top:135.7px;" width="7" height="15" viewBox="0 0 7 15"><g fill="#4a8fc0"><path d="M3.5,0 L6.6,3.4 H4.3 V6 H2.7 V3.4 H0.4Z"/><path d="M3.5,14 L6.6,10.6 H4.3 V8 H2.7 V10.6 H0.4Z"/></g></svg>
<div class="t" style="left:989.7px;top:138.00px;font-size:10px;color:#4ea3d6;">123</div>
<div class="t" style="left:1010.2px;top:138.00px;font-size:12.8px;color:#111;">Total</div>
<svg class="a" style="left:1050.5px;top:136.3px;" width="9" height="13" viewBox="0 0 9 13"><path d="M0.6,0.6 H8.4 L5.6,4.8 V12.2 L3.4,10.2 V4.8Z" fill="#8ccbeb" stroke="#4a90c4" stroke-width="1" stroke-linejoin="round"/></svg>
<svg class="a" style="left:1060.5px;top:136.2px;" width="7" height="14" viewBox="0 0 7 14"><path d="M3.5,13.6 L6.8,9.6 H4.3 V0 H2.7 V9.6 H0.2Z" fill="#4a8fc0"/></svg>
<div class="a" style="left:297px;top:157px;width:773px;height:19px;background:#dde4f0"></div>
<div class="a" style="left:297px;top:176px;width:790px;height:1px;background:#eff0f2"></div>
<div class="a" style="left:264px;top:157px;width:32px;height:19px;background:#dce4ef"></div>
<div class="a" style="left:264px;top:176px;width:33px;height:1px;background:#1e1e1e"></div>
<div class="t" style="left:269.0px;top:161.00px;font-size:13.6px;color:#111;font-weight:bold">1</div>
<div class="clip" style="left:297px;top:157px;width:142px;height:19px">
<div class="t" style="left:-33.639999999999986px;top:3.00px;font-size:13.05px;color:#111;">Rilská 3174/6</div>
</div>
<div class="t" style="left:444.59999999999997px;top:160.00px;font-size:13.2px;color:#111;">Prague</div>
<div class="t" style="left:562.0px;top:160.00px;font-size:13.2px;color:#a9a9a9;">[NULL]</div>
<div class="t" style="left:686.6px;top:160.00px;font-size:13.2px;color:#111;">Czech Republic</div>
<div class="t" style="left:828.0px;top:160.00px;font-size:13.6px;color:#111;">14300</div>
<div class="t" style="right:44.700000000000045px;top:160.00px;font-size:13.7px;color:#111;">25.86</div>
<div class="a" style="left:297px;top:177px;width:773px;height:19px;background:#a2eacc"></div>
<div class="a" style="left:297px;top:196px;width:790px;height:1px;background:#eff0f2"></div>
<div class="a" style="left:264px;top:177px;width:32px;height:19px;background:#ececec"></div>
<div class="a" style="left:264px;top:196px;width:33px;height:1px;background:#1e1e1e"></div>
<div class="t" style="left:269.0px;top:181.00px;font-size:13.6px;color:#111;">2</div>
<div class="clip" style="left:297px;top:177px;width:142px;height:19px">
<div class="t" style="left:-36.70999999999998px;top:3.00px;font-size:13.65px;color:#0f3326;">2211 W Berry Street</div>
</div>
<div class="t" style="left:444.59999999999997px;top:180.00px;font-size:13.2px;color:#0f3326;">Fort Worth</div>
<div class="t" style="left:562.0px;top:180.00px;font-size:13.2px;color:#0f3326;">TX</div>
<div class="t" style="left:686.6px;top:180.00px;font-size:13.2px;color:#0f3326;">USA</div>
<div class="t" style="left:828.0px;top:180.00px;font-size:13.6px;color:#0f3326;">76110</div>
<div class="t" style="right:44.700000000000045px;top:180.00px;font-size:13.7px;color:#2b4fa4;">23.86</div>
<div class="a" style="left:297px;top:197px;width:773px;height:19px;background:#dde4f0"></div>
<div class="a" style="left:297px;top:216px;width:790px;height:1px;background:#eff0f2"></div>
<div class="a" style="left:264px;top:197px;width:32px;height:19px;background:#ececec"></div>
<div class="a" style="left:264px;top:216px;width:33px;height:1px;background:#1e1e1e"></div>
<div class="t" style="left:269.0px;top:201.00px;font-size:13.6px;color:#111;">3</div>
<div class="clip" style="left:297px;top:197px;width:142px;height:19px">
<div class="t" style="left:-33.839999999999975px;top:3.00px;font-size:13.7px;color:#111;">Erzsébet krt. 58.</div>
</div>
<div class="t" style="left:444.59999999999997px;top:200.00px;font-size:13.2px;color:#111;">Budapest</div>
<div class="t" style="left:562.0px;top:200.00px;font-size:13.2px;color:#a9a9a9;">[NULL]</div>
<div class="t" style="left:686.6px;top:200.00px;font-size:13.2px;color:#111;">Hungary</div>
<div class="t" style="left:828.0px;top:200.00px;font-size:13.2px;color:#111;">H-1073</div>
<div class="t" style="right:44.700000000000045px;top:200.00px;font-size:13.7px;color:#3c46a8;">21.86</div>
<div class="a" style="left:297px;top:217px;width:773px;height:19px;background:#ffffff"></div>
<div class="a" style="left:297px;top:236px;width:790px;height:1px;background:#eff0f2"></div>
<div class="a" style="left:264px;top:217px;width:32px;height:19px;background:#ececec"></div>
<div class="a" style="left:264px;top:236px;width:33px;height:1px;background:#1e1e1e"></div>
<div class="t" style="left:269.0px;top:221.00px;font-size:13.6px;color:#111;">4</div>
<div class="clip" style="left:297px;top:217px;width:142px;height:19px">
<div class="t" style="left:-34.870000000000005px;top:3.00px;font-size:13.7px;color:#111;">3 Chatham Street</div>
</div>
<div class="t" style="left:444.59999999999997px;top:220.00px;font-size:13.2px;color:#111;">Dublin</div>
<div class="t" style="left:562.0px;top:220.00px;font-size:13.2px;color:#111;">Dublin</div>
<div class="t" style="left:686.6px;top:220.00px;font-size:13.2px;color:#111;">Ireland</div>
<div class="t" style="left:828.0px;top:220.00px;font-size:13.2px;color:#a9a9a9;">[NULL]</div>
<div class="t" style="right:44.700000000000045px;top:220.00px;font-size:13.7px;color:#3c46a8;">21.86</div>
<div class="a" style="left:297px;top:237px;width:773px;height:19px;background:#dde4f0"></div>
<div class="a" style="left:297px;top:256px;width:790px;height:1px;background:#eff0f2"></div>
<div class="a" style="left:264px;top:237px;width:32px;height:19px;background:#ececec"></div>
<div class="a" style="left:264px;top:256px;width:33px;height:1px;background:#1e1e1e"></div>
<div class="t" style="left:269.0px;top:241.00px;font-size:13.6px;color:#111;">5</div>
<div class="clip" style="left:297px;top:237px;width:142px;height:19px">
<div class="t" style="left:-35.51999999999998px;top:3.00px;font-size:13.2px;color:#111;">Rotenturmstraße 4, 1010 Innere Stadt</div>
</div>
<div class="t" style="left:444.59999999999997px;top:240.00px;font-size:13.2px;color:#111;">Vienne</div>
<div class="t" style="left:562.0px;top:240.00px;font-size:13.2px;color:#a9a9a9;">[NULL]</div>
<div class="t" style="left:686.6px;top:240.00px;font-size:13.2px;color:#111;">Austria</div>
<div class="t" style="left:828.0px;top:240.00px;font-size:13.6px;color:#111;">1010</div>
<div class="t" style="right:44.700000000000045px;top:240.00px;font-size:13.7px;color:#3c46a8;">18.86</div>
<div class="a" style="left:297px;top:257px;width:773px;height:19px;background:#a2eacc"></div>
<div class="a" style="left:297px;top:276px;width:790px;height:1px;background:#eff0f2"></div>
<div class="a" style="left:264px;top:257px;width:32px;height:19px;background:#ececec"></div>
<div class="a" style="left:264px;top:276px;width:33px;height:1px;background:#1e1e1e"></div>
<div class="t" style="left:269.0px;top:261.00px;font-size:13.6px;color:#111;">6</div>
<div class="clip" style="left:297px;top:257px;width:142px;height:19px">
<div class="t" style="left:-34.410000000000025px;top:3.00px;font-size:13.46px;color:#0f3326;">319 N. Frances Street</div>
</div>
<div class="t" style="left:444.59999999999997px;top:260.00px;font-size:13.2px;color:#0f3326;">Madison</div>
<div class="t" style="left:562.0px;top:260.00px;font-size:13.2px;color:#0f3326;">WI</div>
<div class="t" style="left:686.6px;top:260.00px;font-size:13.2px;color:#0f3326;">USA</div>
<div class="t" style="left:828.0px;top:260.00px;font-size:13.6px;color:#0f3326;">53703</div>
<div class="t" style="right:44.700000000000045px;top:260.00px;font-size:13.7px;color:#2b4fa4;">18.86</div>
<div class="a" style="left:297px;top:277px;width:773px;height:19px;background:#dde4f0"></div>
<div class="a" style="left:297px;top:296px;width:790px;height:1px;background:#eff0f2"></div>
<div class="a" style="left:264px;top:277px;width:32px;height:19px;background:#ececec"></div>
<div class="a" style="left:264px;top:296px;width:33px;height:1px;background:#1e1e1e"></div>
<div class="t" style="left:269.0px;top:281.00px;font-size:13.6px;color:#111;">7</div>
<div class="clip" style="left:297px;top:277px;width:142px;height:19px">
<div class="t" style="left:-33.639999999999986px;top:3.00px;font-size:13.23px;color:#111;">Calle Lira, 198</div>
</div>
<div class="t" style="left:444.59999999999997px;top:280.00px;font-size:13.2px;color:#111;">Santiago</div>
<div class="t" style="left:562.0px;top:280.00px;font-size:13.2px;color:#a9a9a9;">[NULL]</div>
<div class="t" style="left:686.6px;top:280.00px;font-size:13.2px;color:#111;">Chile</div>
<div class="t" style="left:828.0px;top:280.00px;font-size:13.2px;color:#a9a9a9;">[NULL]</div>
<div class="t" style="right:44.700000000000045px;top:280.00px;font-size:13.7px;color:#3c46a8;">17.91</div>
<div class="a" style="left:297px;top:297px;width:773px;height:19px;background:#ffffff"></div>
<div class="a" style="left:297px;top:316px;width:790px;height:1px;background:#eff0f2"></div>
<div class="a" style="left:264px;top:297px;width:32px;height:19px;background:#ececec"></div>
<div class="a" style="left:264px;top:316px;width:33px;height:1px;background:#1e1e1e"></div>
<div class="t" style="left:269.0px;top:301.00px;font-size:13.6px;color:#111;">8</div>
<div class="clip" style="left:297px;top:297px;width:142px;height:19px">
<div class="t" style="left:-34.49000000000001px;top:3.00px;font-size:13.7px;color:#111;">Klanova 9/506</div>
</div>
<div class="t" style="left:444.59999999999997px;top:300.00px;font-size:13.2px;color:#111;">Prague</div>
<div class="t" style="left:562.0px;top:300.00px;font-size:13.2px;color:#a9a9a9;">[NULL]</div>
<div class="t" style="left:686.6px;top:300.00px;font-size:13.2px;color:#111;">Czech Republic</div>
<div class="t" style="left:828.0px;top:300.00px;font-size:13.6px;color:#111;">14700</div>
<div class="t" style="right:44.700000000000045px;top:300.00px;font-size:13.7px;color:#3c46a8;">16.86</div>
<div class="a" style="left:297px;top:317px;width:773px;height:19px;background:#dde4f0"></div>
<div class="a" style="left:297px;top:336px;width:790px;height:1px;background:#eff0f2"></div>
<div class="a" style="left:264px;top:317px;width:32px;height:19px;background:#ececec"></div>
<div class="a" style="left:264px;top:336px;width:33px;height:1px;background:#1e1e1e"></div>
<div class="t" style="left:269.0px;top:321.00px;font-size:13.6px;color:#111;">9</div>
<div class="clip" style="left:297px;top:317px;width:142px;height:19px">
<div class="t" style="left:-34.170000000000016px;top:3.00px;font-size:13.46px;color:#111;">68, Rue Jouvence</div>
</div>
<div class="t" style="left:444.59999999999997px;top:320.00px;font-size:13.2px;color:#111;">Dijon</div>
<div class="t" style="left:562.0px;top:320.00px;font-size:13.2px;color:#a9a9a9;">[NULL]</div>
<div class="t" style="left:686.6px;top:320.00px;font-size:13.2px;color:#111;">France</div>
<div class="t" style="left:828.0px;top:320.00px;font-size:13.6px;color:#111;">21000</div>
<div class="t" style="right:44.700000000000045px;top:320.00px;font-size:13.7px;color:#3c46a8;">16.86</div>
<div class="a" style="left:297px;top:337px;width:773px;height:19px;background:#a2eacc"></div>
<div class="a" style="left:297px;top:356px;width:790px;height:1px;background:#eff0f2"></div>
<div class="a" style="left:264px;top:337px;width:32px;height:19px;background:#ececec"></div>
<div class="a" style="left:264px;top:356px;width:33px;height:1px;background:#1e1e1e"></div>
<div class="t" style="left:268.2px;top:341.00px;font-size:13.6px;color:#111;">10</div>
<div class="clip" style="left:297px;top:337px;width:142px;height:19px">
<div class="t" style="left:-36.579999999999984px;top:3.00px;font-size:13.62px;color:#0f3326;">162 E Superior Street</div>
</div>
<div class="t" style="left:444.59999999999997px;top:340.00px;font-size:13.2px;color:#0f3326;">Chicago</div>
<div class="t" style="left:562.0px;top:340.00px;font-size:13.2px;color:#0f3326;">IL</div>
<div class="t" style="left:686.6px;top:340.00px;font-size:13.2px;color:#0f3326;">USA</div>
<div class="t" style="left:828.0px;top:340.00px;font-size:13.6px;color:#0f3326;">60611</div>
<div class="t" style="right:44.700000000000045px;top:340.00px;font-size:13.7px;color:#2b4fa4;">15.86</div>
<div class="a" style="left:297px;top:357px;width:773px;height:19px;background:#dde4f0"></div>
<div class="a" style="left:297px;top:376px;width:790px;height:1px;background:#eff0f2"></div>
<div class="a" style="left:264px;top:357px;width:32px;height:19px;background:#ececec"></div>
<div class="a" style="left:264px;top:376px;width:33px;height:1px;background:#1e1e1e"></div>
<div class="t" style="left:268.2px;top:361.00px;font-size:13.6px;color:#111;">11</div>
<div class="clip" style="left:297px;top:357px;width:142px;height:19px">
<div class="t" style="left:-32.339999999999975px;top:4.00px;font-size:12.94px;color:#111;">Ullevålsveien 14</div>
</div>
<div class="t" style="left:444.59999999999997px;top:360.00px;font-size:13.2px;color:#111;">Oslo</div>
<div class="t" style="left:562.0px;top:360.00px;font-size:13.2px;color:#a9a9a9;">[NULL]</div>
<div class="t" style="left:686.6px;top:360.00px;font-size:13.2px;color:#111;">Norway</div>
<div class="t" style="left:828.0px;top:360.00px;font-size:13.6px;color:#111;">0171</div>
<div class="t" style="right:44.700000000000045px;top:360.00px;font-size:13.7px;color:#3c46a8;">15.86</div>
<div class="a" style="left:297px;top:377px;width:773px;height:19px;background:#ffffff"></div>
<div class="a" style="left:297px;top:396px;width:790px;height:1px;background:#eff0f2"></div>
<div class="a" style="left:264px;top:377px;width:32px;height:19px;background:#ececec"></div>
<div class="a" style="left:264px;top:396px;width:33px;height:1px;background:#1e1e1e"></div>
<div class="t" style="left:268.2px;top:381.00px;font-size:13.6px;color:#111;">12</div>
<div class="clip" style="left:297px;top:377px;width:142px;height:19px">
<div class="t" style="left:-32.620000000000005px;top:3.00px;font-size:13.03px;color:#111;">Berger Straße 10</div>
</div>
<div class="t" style="left:444.59999999999997px;top:380.00px;font-size:13.2px;color:#111;">Frankfurt</div>
<div class="t" style="left:562.0px;top:380.00px;font-size:13.2px;color:#a9a9a9;">[NULL]</div>
<div class="t" style="left:686.6px;top:380.00px;font-size:13.2px;color:#111;">Germany</div>
<div class="t" style="left:828.0px;top:380.00px;font-size:13.6px;color:#111;">60316</div>
<div class="t" style="right:44.700000000000045px;top:380.00px;font-size:13.7px;color:#3c46a8;">14.91</div>
<div class="a" style="left:297px;top:397px;width:773px;height:19px;background:#a2eacc"></div>
<div class="a" style="left:297px;top:416px;width:790px;height:1px;background:#eff0f2"></div>
<div class="a" style="left:264px;top:397px;width:32px;height:19px;background:#ececec"></div>
<div class="a" style="left:264px;top:416px;width:33px;height:1px;background:#1e1e1e"></div>
<div class="t" style="left:268.2px;top:401.00px;font-size:13.6px;color:#111;">13</div>
<div class="clip" style="left:297px;top:397px;width:142px;height:19px">
<div class="t" style="left:-34.829999999999984px;top:3.00px;font-size:13.7px;color:#0f3326;">69 Salem Street</div>
</div>
<div class="t" style="left:444.59999999999997px;top:400.00px;font-size:13.2px;color:#0f3326;">Boston</div>
<div class="t" style="left:562.0px;top:400.00px;font-size:13.2px;color:#0f3326;">MA</div>
<div class="t" style="left:686.6px;top:400.00px;font-size:13.2px;color:#0f3326;">USA</div>
<div class="t" style="left:828.0px;top:400.00px;font-size:13.6px;color:#0f3326;">2113</div>
<div class="t" style="right:44.700000000000045px;top:400.00px;font-size:13.7px;color:#2b4fa4;">13.86</div>
<div class="a" style="left:297px;top:417px;width:773px;height:19px;background:#ffffff"></div>
<div class="a" style="left:297px;top:436px;width:790px;height:1px;background:#eff0f2"></div>
<div class="a" style="left:264px;top:417px;width:32px;height:19px;background:#ececec"></div>
<div class="a" style="left:264px;top:436px;width:33px;height:1px;background:#1e1e1e"></div>
<div class="t" style="left:268.2px;top:421.00px;font-size:13.6px;color:#111;">14</div>
<div class="clip" style="left:297px;top:417px;width:142px;height:19px">
<div class="t" style="left:-29.95999999999998px;top:3.00px;font-size:13.41px;color:#111;">Theodor-Heuss-Straße 34</div>
</div>
<div class="t" style="left:444.59999999999997px;top:420.00px;font-size:13.2px;color:#111;">Stuttgart</div>
<div class="t" style="left:562.0px;top:420.00px;font-size:13.2px;color:#a9a9a9;">[NULL]</div>
<div class="t" style="left:686.6px;top:420.00px;font-size:13.2px;color:#111;">Germany</div>
<div class="t" style="left:828.0px;top:420.00px;font-size:13.6px;color:#111;">70174</div>
<div class="t" style="right:44.700000000000045px;top:420.00px;font-size:13.7px;color:#3c46a8;">13.86</div>
<div class="a" style="left:297px;top:437px;width:773px;height:19px;background:#dde4f0"></div>
<div class="a" style="left:297px;top:456px;width:790px;height:1px;background:#eff0f2"></div>
<div class="a" style="left:264px;top:437px;width:32px;height:19px;background:#ececec"></div>
<div class="a" style="left:264px;top:456px;width:33px;height:1px;background:#1e1e1e"></div>
<div class="t" style="left:268.2px;top:441.00px;font-size:13.6px;color:#111;">15</div>
<div class="clip" style="left:297px;top:437px;width:142px;height:19px">
<div class="t" style="left:-34.910000000000025px;top:3.00px;font-size:13.31px;color:#111;">8, Rue Hanovre</div>
</div>
<div class="t" style="left:444.59999999999997px;top:440.00px;font-size:13.2px;color:#111;">Paris</div>
<div class="t" style="left:562.0px;top:440.00px;font-size:13.2px;color:#a9a9a9;">[NULL]</div>
<div class="t" style="left:686.6px;top:440.00px;font-size:13.2px;color:#111;">France</div>
<div class="t" style="left:828.0px;top:440.00px;font-size:13.6px;color:#111;">75002</div>
<div class="t" style="right:44.700000000000045px;top:440.00px;font-size:13.7px;color:#3c46a8;">13.86</div>
<div class="a" style="left:297px;top:457px;width:773px;height:19px;background:#a2eacc"></div>
<div class="a" style="left:297px;top:476px;width:790px;height:1px;background:#eff0f2"></div>
<div class="a" style="left:264px;top:457px;width:32px;height:19px;background:#ececec"></div>
<div class="a" style="left:264px;top:476px;width:33px;height:1px;background:#1e1e1e"></div>
<div class="t" style="left:268.2px;top:461.00px;font-size:13.6px;color:#111;">16</div>
<div class="clip" style="left:297px;top:457px;width:142px;height:19px">
<div class="t" style="left:-33.95999999999998px;top:3.00px;font-size:13.4px;color:#0f3326;">1 Infinite Loop</div>
</div>
<div class="t" style="left:444.59999999999997px;top:460.00px;font-size:13.2px;color:#0f3326;">Cupertino</div>
<div class="t" style="left:562.0px;top:460.00px;font-size:13.2px;color:#0f3326;">CA</div>
<div class="t" style="left:686.6px;top:460.00px;font-size:13.2px;color:#0f3326;">USA</div>
<div class="t" style="left:828.0px;top:460.00px;font-size:13.6px;color:#0f3326;">95014</div>
<div class="t" style="right:44.700000000000045px;top:460.00px;font-size:13.7px;color:#2b4fa4;">13.86</div>
<div class="a" style="left:297px;top:477px;width:773px;height:19px;background:#dde4f0"></div>
<div class="a" style="left:297px;top:496px;width:790px;height:1px;background:#eff0f2"></div>
<div class="a" style="left:264px;top:477px;width:32px;height:19px;background:#ececec"></div>
<div class="a" style="left:264px;top:496px;width:33px;height:1px;background:#1e1e1e"></div>
<div class="t" style="left:268.2px;top:481.00px;font-size:13.6px;color:#111;">17</div>
<div class="clip" style="left:297px;top:477px;width:142px;height:19px">
<div class="t" style="left:-33.639999999999986px;top:3.00px;font-size:13.23px;color:#111;">Calle Lira, 198</div>
</div>
<div class="t" style="left:444.59999999999997px;top:480.00px;font-size:13.2px;color:#111;">Santiago</div>
<div class="t" style="left:562.0px;top:480.00px;font-size:13.2px;color:#a9a9a9;">[NULL]</div>
<div class="t" style="left:686.6px;top:480.00px;font-size:13.2px;color:#111;">Chile</div>
<div class="t" style="left:828.0px;top:480.00px;font-size:13.2px;color:#a9a9a9;">[NULL]</div>
<div class="t" style="right:44.700000000000045px;top:480.00px;font-size:13.7px;color:#3c46a8;">13.86</div>
<div class="a" style="left:297px;top:497px;width:773px;height:19px;background:#ffffff"></div>
<div class="a" style="left:297px;top:516px;width:790px;height:1px;background:#eff0f2"></div>
<div class="a" style="left:264px;top:497px;width:32px;height:19px;background:#ececec"></div>
<div class="a" style="left:264px;top:516px;width:33px;height:1px;background:#1e1e1e"></div>
<div class="t" style="left:268.2px;top:501.00px;font-size:13.6px;color:#111;">18</div>
<div class="clip" style="left:297px;top:497px;width:142px;height:19px">
<div class="t" style="left:-34.50999999999999px;top:3.00px;font-size:13.7px;color:#111;">Tauentzienstraße 8</div>
</div>
<div class="t" style="left:444.59999999999997px;top:500.00px;font-size:13.2px;color:#111;">Berlin</div>
<div class="t" style="left:562.0px;top:500.00px;font-size:13.2px;color:#a9a9a9;">[NULL]</div>
<div class="t" style="left:686.6px;top:500.00px;font-size:13.2px;color:#111;">Germany</div>
<div class="t" style="left:828.0px;top:500.00px;font-size:13.6px;color:#111;">10789</div>
<div class="t" style="right:44.700000000000045px;top:500.00px;font-size:13.7px;color:#3c46a8;">13.86</div>
<div class="a" style="left:297px;top:517px;width:773px;height:19px;background:#9de65f"></div>
<div class="a" style="left:297px;top:536px;width:790px;height:1px;background:#eff0f2"></div>
<div class="a" style="left:264px;top:517px;width:32px;height:19px;background:#ececec"></div>
<div class="a" style="left:264px;top:536px;width:33px;height:1px;background:#1e1e1e"></div>
<div class="t" style="left:268.2px;top:521.00px;font-size:13.6px;color:#111;">19</div>
<div class="clip" style="left:297px;top:517px;width:142px;height:19px">
<div class="t" style="left:-33.72000000000003px;top:3.00px;font-size:13.48px;color:#143616;">700 W Pender Street</div>
</div>
<div class="t" style="left:444.59999999999997px;top:520.00px;font-size:13.2px;color:#143616;">Vancouver</div>
<div class="t" style="left:562.0px;top:520.00px;font-size:13.2px;color:#143616;">BC</div>
<div class="t" style="left:686.6px;top:520.00px;font-size:13.2px;color:#143616;">Canada</div>
<div class="t" style="left:828.0px;top:520.00px;font-size:13.2px;color:#143616;">V6C 1G8</div>
<div class="t" style="right:44.700000000000045px;top:520.00px;font-size:13.7px;color:#1f4d78;">13.86</div>
<div class="a" style="left:297px;top:537px;width:773px;height:19px;background:#ffffff"></div>
<div class="a" style="left:297px;top:556px;width:790px;height:1px;background:#eff0f2"></div>
<div class="a" style="left:264px;top:537px;width:32px;height:19px;background:#ececec"></div>
<div class="a" style="left:264px;top:556px;width:33px;height:1px;background:#1e1e1e"></div>
<div class="t" style="left:268.2px;top:541.00px;font-size:13.6px;color:#111;">20</div>
<div class="clip" style="left:297px;top:537px;width:142px;height:19px">
<div class="t" style="left:-37.22000000000003px;top:3.00px;font-size:13.7px;color:#111;">113 Lupus St</div>
</div>
<div class="t" style="left:444.59999999999997px;top:540.00px;font-size:13.2px;color:#111;">London</div>
<div class="t" style="left:562.0px;top:540.00px;font-size:13.2px;color:#a9a9a9;">[NULL]</div>
<div class="t" style="left:686.6px;top:540.00px;font-size:13.2px;color:#111;">United Kingdom</div>
<div class="t" style="left:828.0px;top:540.00px;font-size:13.2px;color:#111;">SW1V 3EN</div>
<div class="t" style="right:44.700000000000045px;top:540.00px;font-size:13.7px;color:#3c46a8;">13.86</div>
<div class="a" style="left:297px;top:557px;width:773px;height:19px;background:#9de65f"></div>
<div class="a" style="left:297px;top:576px;width:790px;height:1px;background:#eff0f2"></div>
<div class="a" style="left:264px;top:557px;width:32px;height:19px;background:#ececec"></div>
<div class="a" style="left:264px;top:576px;width:33px;height:1px;background:#1e1e1e"></div>
<div class="t" style="left:268.2px;top:561.00px;font-size:13.6px;color:#111;">21</div>
<div class="clip" style="left:297px;top:557px;width:142px;height:19px">
<div class="t" style="left:-33.25999999999999px;top:3.00px;font-size:13.7px;color:#143616;">696 Osborne Street</div>
</div>
<div class="t" style="left:444.59999999999997px;top:560.00px;font-size:13.2px;color:#143616;">Winnipeg</div>
<div class="t" style="left:562.0px;top:560.00px;font-size:13.2px;color:#143616;">MB</div>
<div class="t" style="left:686.6px;top:560.00px;font-size:13.2px;color:#143616;">Canada</div>
<div class="t" style="left:828.0px;top:560.00px;font-size:13.2px;color:#143616;">R3L 2B9</div>
<div class="t" style="right:44.700000000000045px;top:560.00px;font-size:13.7px;color:#1f4d78;">13.86</div>
<div class="a" style="left:297px;top:577px;width:773px;height:19px;background:#ffffff"></div>
<div class="a" style="left:297px;top:596px;width:790px;height:1px;background:#eff0f2"></div>
<div class="a" style="left:264px;top:577px;width:32px;height:19px;background:#ececec"></div>
<div class="a" style="left:264px;top:596px;width:33px;height:1px;background:#1e1e1e"></div>
<div class="t" style="left:268.2px;top:581.00px;font-size:13.6px;color:#111;">22</div>
<div class="clip" style="left:297px;top:577px;width:142px;height:19px">
<div class="t" style="left:-36.75999999999999px;top:3.00px;font-size:13.7px;color:#111;">Av. Paulista, 2022</div>
</div>
<div class="t" style="left:444.59999999999997px;top:580.00px;font-size:13.2px;color:#111;">São Paulo</div>
<div class="t" style="left:562.0px;top:580.00px;font-size:13.2px;color:#111;">SP</div>
<div class="t" style="left:686.6px;top:580.00px;font-size:13.2px;color:#111;">Brazil</div>
<div class="t" style="left:828.0px;top:580.00px;font-size:13.2px;color:#111;">01310-200</div>
<div class="t" style="right:44.700000000000045px;top:580.00px;font-size:13.7px;color:#3c46a8;">13.86</div>
<div class="a" style="left:297px;top:597px;width:773px;height:19px;background:#dde4f0"></div>
<div class="a" style="left:297px;top:616px;width:790px;height:1px;background:#eff0f2"></div>
<div class="a" style="left:264px;top:597px;width:32px;height:19px;background:#ececec"></div>
<div class="a" style="left:264px;top:616px;width:33px;height:1px;background:#1e1e1e"></div>
<div class="t" style="left:268.2px;top:601.00px;font-size:13.6px;color:#111;">23</div>
<div class="clip" style="left:297px;top:597px;width:142px;height:19px">
<div class="t" style="left:-36.99000000000001px;top:3.00px;font-size:13.7px;color:#111;">Ordynacka 10</div>
</div>
<div class="t" style="left:444.59999999999997px;top:600.00px;font-size:13.2px;color:#111;">Warsaw</div>
<div class="t" style="left:562.0px;top:600.00px;font-size:13.2px;color:#a9a9a9;">[NULL]</div>
<div class="t" style="left:686.6px;top:600.00px;font-size:13.2px;color:#111;">Poland</div>
<div class="t" style="left:828.0px;top:600.00px;font-size:13.2px;color:#111;">00-358</div>
<div class="t" style="right:44.700000000000045px;top:600.00px;font-size:13.7px;color:#3c46a8;">13.86</div>
<div class="a" style="left:297px;top:617px;width:773px;height:19px;background:#a2eacc"></div>
<div class="a" style="left:297px;top:636px;width:790px;height:1px;background:#eff0f2"></div>
<div class="a" style="left:264px;top:617px;width:32px;height:19px;background:#ececec"></div>
<div class="a" style="left:264px;top:636px;width:33px;height:1px;background:#1e1e1e"></div>
<div class="t" style="left:268.2px;top:621.00px;font-size:13.6px;color:#111;">24</div>
<div class="clip" style="left:297px;top:617px;width:142px;height:19px">
<div class="t" style="left:-33.27999999999997px;top:3.00px;font-size:13.24px;color:#0f3326;">302 S 700 E</div>
</div>
<div class="t" style="left:444.59999999999997px;top:620.00px;font-size:13.2px;color:#0f3326;">Salt Lake City</div>
<div class="t" style="left:562.0px;top:620.00px;font-size:13.2px;color:#0f3326;">UT</div>
<div class="t" style="left:686.6px;top:620.00px;font-size:13.2px;color:#0f3326;">USA</div>
<div class="t" style="left:828.0px;top:620.00px;font-size:13.6px;color:#0f3326;">84102</div>
<div class="t" style="right:44.700000000000045px;top:620.00px;font-size:13.7px;color:#2b4fa4;">13.86</div>
<div class="a" style="left:297px;top:637px;width:773px;height:19px;background:#9de65f"></div>
<div class="a" style="left:297px;top:656px;width:790px;height:1px;background:#eff0f2"></div>
<div class="a" style="left:264px;top:637px;width:32px;height:19px;background:#ececec"></div>
<div class="a" style="left:264px;top:656px;width:33px;height:1px;background:#1e1e1e"></div>
<div class="t" style="left:268.2px;top:641.00px;font-size:13.6px;color:#111;">25</div>
<div class="clip" style="left:297px;top:637px;width:142px;height:19px">
<div class="t" style="left:-33.49000000000001px;top:3.00px;font-size:13.44px;color:#143616;">1498 rue Bélanger</div>
</div>
<div class="t" style="left:444.59999999999997px;top:640.00px;font-size:13.2px;color:#143616;">Montréal</div>
<div class="t" style="left:562.0px;top:640.00px;font-size:13.2px;color:#143616;">QC</div>
<div class="t" style="left:686.6px;top:640.00px;font-size:13.2px;color:#143616;">Canada</div>
<div class="t" style="left:828.0px;top:640.00px;font-size:13.2px;color:#143616;">H2G 1A7</div>
<div class="t" style="right:44.700000000000045px;top:640.00px;font-size:13.7px;color:#1f4d78;">13.86</div>
<div class="a" style="left:439px;top:157px;width:1px;height:500px;background:#eff0f2"></div>
<div class="a" style="left:556px;top:157px;width:1px;height:500px;background:#eff0f2"></div>
<div class="a" style="left:681px;top:157px;width:1px;height:500px;background:#eff0f2"></div>
<div class="a" style="left:822px;top:157px;width:1px;height:500px;background:#eff0f2"></div>
<div class="a" style="left:984px;top:157px;width:1px;height:500px;background:#eff0f2"></div>
<div class="a" style="left:296px;top:157px;width:1px;height:500px;background:#1e1e1e"></div>
<div class="a" style="left:1070px;top:157px;width:1px;height:500px;background:#eff0f2"></div>
<div class="a" style="left:985px;top:157px;width:85px;height:19.5px;border:1.5px solid #1a1a1a"></div>
<div class="a" style="left:242px;top:129px;width:20px;height:63.5px;background:#efefef;border:1px solid #a9a9a9"></div>
<div class="t" style="left:246.15px;top:-34.099999999999994px;height:200px;width:12.3px;font-size:12.3px;color:#111;writing-mode:vertical-rl;transform:rotate(180deg);line-height:12.3px">Grid</div>
<svg class="a" style="left:245px;top:170px;" width="14" height="14" viewBox="0 0 14 14"><rect x="0.5" y="0.5" width="13" height="13" fill="#c9ecf8"/><path d="M0.5,0.5 H13.5 V13.5 H0.5Z M4.8,0.5 V13.5 M9.2,0.5 V13.5 M0.5,4.8 H13.5 M0.5,9.2 H13.5" fill="none" stroke="#4aa0c8" stroke-width="1"/></svg>
<div class="t" style="left:247.10px;top:30px;height:200px;width:12.2px;font-size:12.2px;color:#111;writing-mode:vertical-rl;transform:rotate(180deg);line-height:12.2px">Text</div>
<svg class="a" style="left:246.5px;top:233.5px;" width="12" height="16" viewBox="0 0 12 16"><path d="M1.5,0.5 V10.5 M1.5,5.5 H9.5 M9.5,2.8 V8.2" fill="none" stroke="#5a88ad" stroke-width="1.1"/><path d="M5.8,12.3 L7.5,10.8 L9.2,12.3 M5.8,13.6 L7.5,15.1 L9.2,13.6" fill="none" stroke="#3f86c2" stroke-width="1.1"/></svg>
<div class="t" style="left:246.30px;top:101.80000000000001px;height:200px;width:13.8px;font-size:13.8px;color:#111;writing-mode:vertical-rl;transform:rotate(180deg);line-height:13.8px">Chart</div>
<svg class="a" style="left:245.5px;top:306.5px;" width="14" height="13" viewBox="0 0 14 13"><circle cx="7" cy="6.5" r="6" fill="#3f8ad0"/><path d="M7,6.5 V0.5 A6,6 0 0 0 1,6.5Z" fill="#9cc8ec"/></svg>
<div class="t" style="left:246.60px;top:430.79999999999995px;height:200px;width:13.2px;font-size:13.2px;color:#111;writing-mode:vertical-rl;transform:rotate(180deg);line-height:13.2px">Record</div>
<svg class="a" style="left:244.5px;top:634.5px;" width="16" height="14" viewBox="0 0 16 14"><path d="M1,4 V13 H12 V8" fill="none" stroke="#4a8ac0" stroke-width="1.2"/><path d="M1,4 H6" stroke="#4a8ac0" stroke-width="1.2"/><circle cx="11.5" cy="4" r="3.3" fill="#3f8ad0"/><path d="M9.8,4 H13.2" stroke="#fff" stroke-width="1"/></svg>
<svg class="a" style="left:1091px;top:137.5px;" width="16" height="16" viewBox="0 0 16 16"><rect x="4" y="0.6" width="11" height="14" fill="#fff" stroke="#3b82c4" stroke-width="1.2"/><rect x="7" y="0.6" width="8" height="9" fill="#5aaae6" stroke="#3b82c4" stroke-width="1"/><path d="M0.6,0.6 V9" stroke="#3b82c4" stroke-width="1.2"/><circle cx="2.8" cy="12.3" r="2" fill="#3b82c4"/><path d="M2.8,9.3V15.3M-0.2,12.3H5.8" stroke="#3b82c4" stroke-width="0.9"/></svg>
<div class="t" style="left:1092.40px;top:155.9px;height:200px;width:12.6px;font-size:12.6px;color:#111;writing-mode:vertical-rl;line-height:12.6px">Panels</div>
<svg class="a" style="left:1091px;top:212px;" width="15" height="15" viewBox="0 0 15 15"><circle cx="3.3" cy="3.3" r="2.8" fill="#3b82c4"/><circle cx="11" cy="3.3" r="2.8" fill="#3b82c4"/><circle cx="3.3" cy="11" r="2.8" fill="#3b82c4"/><circle cx="11" cy="11" r="2.8" fill="#e8a060"/><path d="M1.8,3.3H4.8M9.5,3.3H12.5M11,1.8V4.8M1.9,9.6L4.7,12.4M4.7,9.6L1.9,12.4M9.5,11H12.5" stroke="#fff" stroke-width="0.9"/></svg>
<svg class="a" style="left:1091px;top:233.5px;" width="15" height="15" viewBox="0 0 15 15"><circle cx="7.5" cy="7.5" r="6.6" fill="#fff" stroke="#3b82c4" stroke-width="1.4"/><g fill="#3b82c4"><circle cx="5.3" cy="5.3" r="1"/><circle cx="9.7" cy="5.3" r="1"/><circle cx="5.3" cy="9.7" r="1"/><circle cx="9.7" cy="9.7" r="1"/></g></svg>
<svg class="a" style="left:1091px;top:255.5px;" width="15" height="15" viewBox="0 0 15 15"><rect x="0.6" y="0.6" width="13.8" height="13.8" fill="#fff" stroke="#3b82c4" stroke-width="1.1"/><g fill="#3b82c4"><rect x="1" y="1" width="13" height="2.5"/><rect x="1" y="3.5" width="2" height="2"/><rect x="5" y="3.5" width="2" height="2"/><rect x="9" y="3.5" width="2" height="2"/><rect x="3" y="5.5" width="2" height="2"/><rect x="7" y="5.5" width="2" height="2"/><rect x="11" y="5.5" width="2" height="2"/><rect x="1" y="7.5" width="2" height="2"/><rect x="5" y="7.5" width="2" height="2"/><rect x="9" y="7.5" width="2" height="2"/></g></svg>
<svg class="a" style="left:1091px;top:276.5px;" width="15" height="16" viewBox="0 0 15 16"><rect x="0.6" y="4" width="13.8" height="11.4" fill="#fff" stroke="#3b82c4" stroke-width="1.1"/><rect x="0.6" y="4" width="13.8" height="2.6" fill="#3b82c4"/><path d="M0.6,10 H14.4 M5,4 V15.4 M10,4 V15.4" stroke="#3b82c4" stroke-width="1"/><rect x="5.5" y="6.6" width="4" height="8.6" fill="#f0a050"/><path d="M7.5,0 V4 M5.5,2 H9.5" stroke="#e07a30" stroke-width="1"/></svg>
<svg class="a" style="left:1091px;top:299.5px;" width="16" height="15" viewBox="0 0 16 15"><rect x="0.6" y="0.6" width="13.8" height="13.8" fill="#fff" stroke="#3b82c4" stroke-width="1.1"/><rect x="0.6" y="0.6" width="13.8" height="2.4" fill="#3b82c4"/><rect x="1" y="3" width="8" height="6" fill="#5aaae6"/><path d="M10,10 H15 M12.5,10 V14 M10,14 H15" stroke="#3b82c4" stroke-width="0.9"/></svg>
<div class="a" style="left:240px;top:657px;width:868px;height:27px;background:#fff"></div>
<svg class="a" style="left:270.5px;top:662.5px;" width="15" height="15" viewBox="0 0 15 15"><circle cx="7.5" cy="7.5" r="6.6" fill="none" stroke="#a5d3a5" stroke-width="1.1"/><path d="M4.3,7.6 L6.7,10 L10.8,5.6" fill="none" stroke="#a5d3a5" stroke-width="1.1"/></svg>
<div class="t" style="left:288.4px;top:664.00px;font-size:10.7px;color:#bcbcbc;">Save</div>
<svg class="a" style="left:323.8px;top:663px;" width="13" height="13" viewBox="0 0 13 13"><rect x="0.5" y="0.5" width="12" height="12" fill="#fbe0dc" stroke="#f0a8a0" stroke-width="1"/><path d="M3,3 L10,10 M10,3 L3,10" stroke="#ec9088" stroke-width="1"/></svg>
<div class="t" style="left:339.59999999999997px;top:664.00px;font-size:11.1px;color:#bcbcbc;">Cancel</div>
<svg class="a" style="left:386px;top:662.5px;" width="13" height="15" viewBox="0 0 13 15"><path d="M2,1 H11 V12 Q11,14 9,14 H2 Q0.5,14 0.5,12.5 V11 H2Z" fill="#a5c9ea"/><rect x="3" y="6" width="5" height="5" rx="1" fill="#fff"/><circle cx="5.5" cy="8.5" r="1.3" fill="#a5c9ea"/></svg>
<div class="t" style="left:401.9px;top:664.00px;font-size:11.8px;color:#bcbcbc;">Script</div>
<div class="a" style="left:441.5px;top:660px;width:1px;height:20px;background:#e3e3e3"></div>
<svg class="a" style="left:448px;top:662px;" width="17" height="16" viewBox="0 0 17 16"><path d="M1,1.8 H14.5 M1,6.8 H7.5 M1,11.8 H7.5" stroke="#4a7ea8" stroke-width="1.7"/><path d="M8.8,13.8 L14.8,7.8" stroke="#3d5f80" stroke-width="1.8"/><path d="M14.6,5.2 L16,6.6" stroke="#3d5f80" stroke-width="1"/></svg>
<svg class="a" style="left:471px;top:662px;" width="17" height="16" viewBox="0 0 17 16"><path d="M1,1.8 H14 M1,6.8 H6.5 M1,11.8 H6.5" stroke="#4a7ea8" stroke-width="1.7"/><path d="M11,6 V15.5 M6.5,10.2 H15.5" stroke="#5aa040" stroke-width="2.4"/></svg>
<svg class="a" style="left:493px;top:662px;" width="17" height="16" viewBox="0 0 17 16"><path d="M1,1.8 H14.5" stroke="#4a7ea8" stroke-width="1.7"/><rect x="1" y="6" width="2" height="1.7" fill="#4a7ea8"/><rect x="1" y="11" width="2" height="1.7" fill="#4a7ea8"/><path d="M7,5.5 Q5.2,5.5 5.2,9.5 Q5.2,13.8 7,13.8 M12.2,5.5 Q14,5.5 14,9.5 Q14,13.8 12.2,13.8" fill="none" stroke="#3d5f80" stroke-width="1.1"/><path d="M9.6,7.3 V12 M7.3,9.6 H12" stroke="#5aa040" stroke-width="1"/></svg>
<svg class="a" style="left:514.5px;top:662px;" width="17" height="16" viewBox="0 0 17 16"><path d="M1,1.8 H14.5 M1,6.8 H7.5 M1,11.8 H7.5" stroke="#4a7ea8" stroke-width="1.7"/><path d="M8,9.6 H16" stroke="#c05a3a" stroke-width="2.2"/></svg>
<svg class="a" style="left:537px;top:662px;" width="2" height="16" viewBox="0 0 2 16"><rect x="0" y="0" width="1.6" height="1.6" fill="#a3a3a3"/><rect x="0" y="4" width="1.6" height="1.6" fill="#a3a3a3"/><rect x="0" y="8" width="1.6" height="1.6" fill="#a3a3a3"/><rect x="0" y="12" width="1.6" height="1.6" fill="#a3a3a3"/></svg>
<svg class="a" style="left:545.5px;top:662.5px;" width="13" height="14" viewBox="0 0 13 14"><path d="M1.2,0.5 V13.5" stroke="#a9c8e4" stroke-width="1.9"/><path d="M10.5,1 L4.5,7 L10.5,13" fill="none" stroke="#a9c8e4" stroke-width="1.9"/></svg>
<svg class="a" style="left:568.5px;top:662.5px;" width="10" height="14" viewBox="0 0 10 14"><path d="M8,1 L2,7 L8,13" fill="none" stroke="#a9c8e4" stroke-width="1.9"/></svg>
<svg class="a" style="left:592.5px;top:662.5px;" width="10" height="14" viewBox="0 0 10 14"><path d="M2,1 L8,7 L2,13" fill="none" stroke="#3a74ad" stroke-width="1.9"/></svg>
<svg class="a" style="left:611.5px;top:662.5px;" width="14" height="14" viewBox="0 0 14 14"><path d="M1.5,1 L7.5,7 L1.5,13" fill="none" stroke="#3a74ad" stroke-width="1.9"/><path d="M11.5,0.5 V13.5" stroke="#3a74ad" stroke-width="1.9"/></svg>
<div class="a" style="left:632px;top:660px;width:1px;height:20px;background:#e3e3e3"></div>
<svg class="a" style="left:638px;top:662px;" width="16" height="15" viewBox="0 0 16 15"><path d="M1,5 V11.5 H6" fill="none" stroke="#3b7fc0" stroke-width="1.1"/><path d="M5,9.5 L7.5,11.5 L5,13.5" fill="none" stroke="#3b7fc0" stroke-width="1.1"/><path d="M8,1 H12.5 L15,3.5 V9 H8Z" fill="#3b7fc0"/></svg>
<svg class="a" style="left:660.5px;top:662px;" width="16" height="15" viewBox="0 0 16 15"><path d="M0.6,4 V0.6 H4 M12,0.6 H15.4 V4 M15.4,11 V14.4 H12 M4,14.4 H0.6 V11" fill="none" stroke="#3b7fc0" stroke-width="1.1"/><path d="M4.5,3.5 H9.5 L11.5,5.5 V11.5 H4.5Z" fill="none" stroke="#3b7fc0" stroke-width="1.1"/><rect x="6" y="7" width="4" height="3" fill="#3b7fc0"/></svg>
<svg class="a" style="left:683.5px;top:662px;" width="2" height="16" viewBox="0 0 2 16"><rect x="0" y="0" width="1.6" height="1.6" fill="#a3a3a3"/><rect x="0" y="4" width="1.6" height="1.6" fill="#a3a3a3"/><rect x="0" y="8" width="1.6" height="1.6" fill="#a3a3a3"/><rect x="0" y="12" width="1.6" height="1.6" fill="#a3a3a3"/></svg>
<svg class="a" style="left:694px;top:662px;" width="13" height="15" viewBox="0 0 13 15"><path d="M6.5,1 V10 M3,4.5 L6.5,1 L10,4.5" fill="none" stroke="#3b7fc0" stroke-width="1.4"/><path d="M1,8 V13.5 H12 V8" fill="none" stroke="#3b7fc0" stroke-width="1.4"/></svg>
<svg class="a" style="left:714.5px;top:662px;" width="16" height="16" viewBox="0 0 16 16"><path d="M5,1 H11.5 L15,4.5 V14.5 H5 V11" fill="none" stroke="#3b7fc0" stroke-width="1"/><path d="M1,5 L8,12 M8,5 L1,12" stroke="#3b7fc0" stroke-width="1.3"/></svg>
<div class="t" style="left:732.0px;top:664.00px;font-size:11.1px;color:#8c8c8c;">Excel</div>
<svg class="a" style="left:770.3px;top:662px;" width="2" height="16" viewBox="0 0 2 16"><rect x="0" y="0" width="1.6" height="1.6" fill="#a3a3a3"/><rect x="0" y="4" width="1.6" height="1.6" fill="#a3a3a3"/><rect x="0" y="8" width="1.6" height="1.6" fill="#a3a3a3"/><rect x="0" y="12" width="1.6" height="1.6" fill="#a3a3a3"/></svg>
<svg class="a" style="left:777.5px;top:662px;" width="15" height="15" viewBox="0 0 15 15"><g transform="translate(7.5 7.5)"><circle r="5.6" fill="#3b82c4"/><g fill="#3b82c4"><rect x="-1.6" y="-7.4" width="3.2" height="3"/><rect x="-1.6" y="4.4" width="3.2" height="3"/><rect x="-7.4" y="-1.6" width="3" height="3.2"/><rect x="4.4" y="-1.6" width="3" height="3.2"/><g transform="rotate(45)"><rect x="-1.6" y="-7.4" width="3.2" height="3"/><rect x="-1.6" y="4.4" width="3.2" height="3"/><rect x="-7.4" y="-1.6" width="3" height="3.2"/><rect x="4.4" y="-1.6" width="3" height="3.2"/></g></g><circle r="2.2" fill="#fff"/></g></svg>
<div class="a" style="left:799.5px;top:658.5px;width:68px;height:19.5px;background:#fff;border:1px solid #dcdcdc;border-radius:2px"></div>
<div class="t" style="left:803.0px;top:664.00px;font-size:12.7px;color:#111;">300</div>
<svg class="a" style="left:874.5px;top:662.5px;" width="16" height="14" viewBox="0 0 16 14"><g fill="none" stroke="#4aa030" stroke-width="1.8"><path d="M2,7 V5.5 Q2,3 4.5,3 H12"/><path d="M14,7 V8.5 Q14,11 11.5,11 H4"/></g><path d="M11,0 L14.5,3 L11,6Z M5,8 L1.5,11 L5,14Z" fill="#4aa030"/></svg>
<div class="t" style="left:896.0px;top:664.00px;font-size:12.5px;color:#111;">300+</div>
<svg class="a" style="left:933px;top:662px;" width="2" height="16" viewBox="0 0 2 16"><rect x="0" y="0" width="1.6" height="1.6" fill="#a3a3a3"/><rect x="0" y="4" width="1.6" height="1.6" fill="#a3a3a3"/><rect x="0" y="8" width="1.6" height="1.6" fill="#a3a3a3"/><rect x="0" y="12" width="1.6" height="1.6" fill="#a3a3a3"/></svg>
<div class="t" style="left:941.2px;top:665.00px;font-size:11.55px;color:#111;">Rows: 1</div>
</body></html>
